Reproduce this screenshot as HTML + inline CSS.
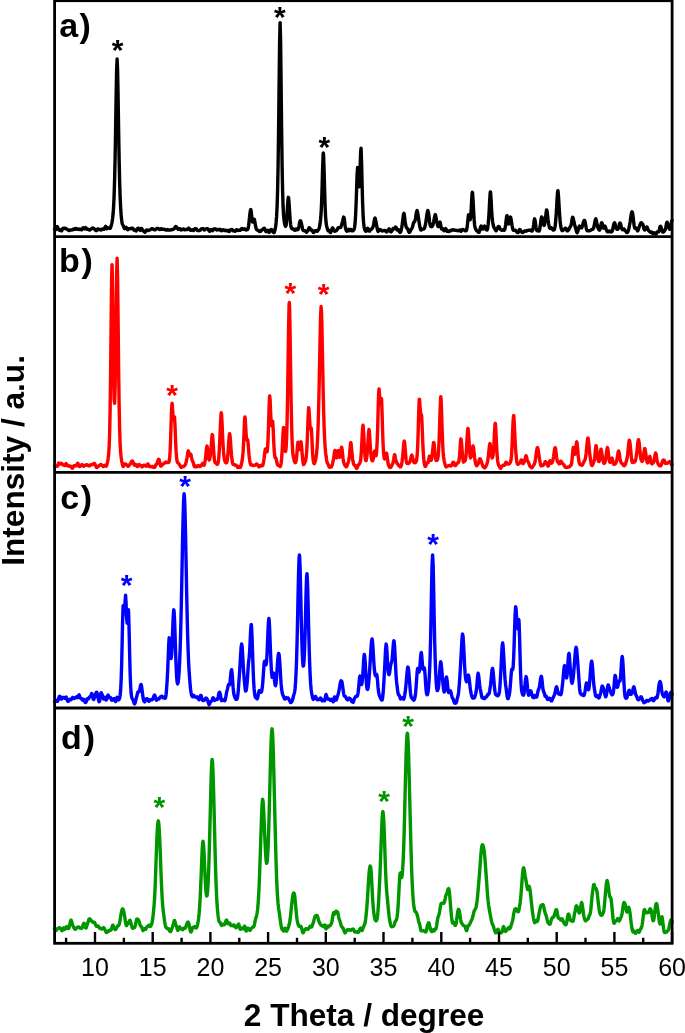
<!DOCTYPE html>
<html lang="en"><head><meta charset="utf-8"><title>XRD patterns</title>
<style>html,body{margin:0;padding:0;background:#fff}svg{display:block}</style></head>
<body>
<svg width="685" height="1033" viewBox="0 0 685 1033">
<rect width="685" height="1033" fill="#fff"/>
<path d="M54.6,229.1 55.1,229.6 55.6,229.8 56.1,228.7 56.6,227.0 57.1,226.5 57.6,227.4 58.1,228.5 58.6,229.4 59.1,230.2 59.6,230.2 60.1,229.8 60.6,230.0 61.1,230.8 61.6,230.8 62.1,229.9 62.6,228.7 63.1,228.2 63.6,228.4 64.1,228.5 64.6,228.2 65.1,228.2 65.6,228.4 66.1,228.7 66.6,229.1 67.1,229.4 67.6,229.6 68.1,229.9 68.6,230.4 69.1,230.6 69.6,230.3 70.1,229.9 70.6,229.9 71.1,230.0 71.6,229.9 72.1,229.9 72.6,229.8 73.1,229.4 73.6,228.9 74.1,229.0 74.6,229.3 75.1,229.1 75.6,228.5 76.1,228.4 76.6,228.7 77.1,229.2 77.6,229.4 78.1,229.2 78.6,228.9 79.1,229.3 79.6,229.6 80.1,229.3 80.6,229.1 81.1,229.5 81.6,229.8 82.1,229.4 82.6,228.5 83.1,227.8 83.6,228.0 84.1,228.6 84.6,228.9 85.1,228.3 85.6,227.6 86.1,227.9 86.6,228.9 87.1,229.3 87.6,229.1 88.1,229.2 88.6,229.6 89.1,230.1 89.6,230.1 90.1,229.8 90.6,229.4 91.1,229.1 91.6,228.7 92.1,228.1 92.6,228.0 93.1,228.2 93.6,228.4 94.1,228.7 94.6,229.3 95.1,229.8 95.6,230.3 96.1,230.7 96.6,230.6 97.1,229.8 97.6,228.9 98.1,229.0 98.6,229.6 99.1,229.7 99.6,229.3 100.1,229.4 100.6,229.7 101.1,230.0 101.6,229.7 102.1,229.3 102.6,229.0 103.1,228.9 103.6,229.1 104.1,229.3 104.6,228.6 105.1,227.0 105.6,226.4 105.9,227.1 106.1,227.7 106.6,228.8 107.1,228.4 107.6,227.8 108.1,227.9 108.6,227.9 109.1,228.0 109.6,228.4 110.1,228.4 110.6,227.4 111.1,226.1 111.6,224.1 112.1,221.6 112.6,218.4 113.1,213.8 113.6,206.6 114.1,195.6 114.6,179.9 115.1,158.2 115.6,129.8 116.1,97.9 116.6,70.4 117.1,59.0 117.6,70.3 118.1,97.8 118.6,129.4 119.1,157.9 119.6,180.5 120.1,196.4 120.6,207.0 121.1,214.4 121.6,219.8 122.1,223.2 122.6,224.8 123.1,225.5 123.6,226.5 124.1,228.0 124.6,228.7 125.1,228.2 125.6,227.4 126.1,227.3 126.4,227.6 126.6,228.0 127.1,229.1 127.6,229.8 128.1,229.4 128.6,228.8 129.1,228.6 129.6,228.8 130.1,228.9 130.6,228.8 131.1,228.4 131.6,228.2 132.1,228.3 132.6,228.3 133.1,228.6 133.6,229.6 134.1,230.3 134.6,230.2 135.1,229.9 135.6,230.3 136.1,231.0 136.6,230.4 137.1,229.1 137.6,228.3 138.1,228.2 138.6,228.4 139.1,229.0 139.6,229.9 140.1,230.4 140.6,229.7 141.1,228.6 141.6,228.4 142.1,229.2 142.6,230.3 143.1,230.9 143.6,230.9 144.1,231.4 144.6,232.2 145.1,232.2 145.6,231.2 146.1,230.4 146.6,230.0 147.1,229.9 147.6,230.3 148.1,230.6 148.6,230.4 149.1,230.1 149.6,230.0 150.1,229.7 150.6,229.4 151.1,229.2 151.6,228.9 152.1,228.7 152.6,228.8 153.1,229.1 153.6,229.3 154.1,229.6 154.6,229.8 155.1,229.9 155.6,229.6 156.1,229.1 156.6,228.6 157.1,228.4 157.6,228.4 158.1,228.6 158.6,228.7 159.1,229.0 159.6,229.5 160.1,229.5 160.6,228.9 161.1,228.6 161.6,229.0 162.1,229.4 162.6,229.4 163.1,229.4 163.6,229.2 164.1,229.1 164.6,229.4 165.1,229.7 165.6,229.7 166.1,229.9 166.6,230.1 167.1,229.7 167.6,229.4 168.1,229.7 168.6,230.1 169.1,230.1 169.6,230.1 170.1,230.0 170.6,230.0 171.1,229.9 171.6,229.8 172.1,229.4 172.6,229.3 173.1,229.4 173.6,229.4 174.1,228.9 174.6,228.1 175.1,227.2 175.5,226.6 175.6,226.5 176.1,226.6 176.6,227.3 177.1,227.9 177.6,228.7 178.1,229.3 178.6,229.4 179.1,228.9 179.6,228.6 180.1,228.6 180.6,229.2 181.1,230.0 181.6,229.9 182.1,229.5 182.6,229.4 183.1,229.1 183.6,228.9 184.1,229.5 184.6,229.9 185.1,229.7 185.6,229.5 186.1,229.4 186.6,229.4 187.1,229.5 187.6,229.2 188.1,228.6 188.6,228.1 189.1,228.4 189.6,229.2 190.1,230.0 190.6,230.4 191.1,230.4 191.6,230.1 192.1,229.7 192.6,229.8 193.1,230.4 193.6,230.6 194.1,229.9 194.6,229.1 195.1,228.7 195.6,228.6 196.1,228.8 196.6,229.3 197.1,230.0 197.6,230.5 198.1,230.6 198.6,230.6 199.1,230.6 199.6,230.6 200.1,230.3 200.6,229.6 201.1,229.0 201.6,228.9 202.1,228.8 202.6,228.6 203.1,228.7 203.6,229.3 204.1,230.0 204.6,229.9 205.1,229.3 205.6,228.9 206.1,228.9 206.6,228.8 207.1,228.6 207.6,228.7 208.1,229.2 208.6,230.0 209.1,230.9 209.6,231.2 210.1,230.7 210.6,230.0 211.1,229.6 211.6,229.9 212.1,230.4 212.6,230.7 213.1,230.1 213.6,229.2 214.1,228.8 214.6,228.9 215.1,229.0 215.6,228.9 216.1,229.2 216.6,229.8 217.1,230.1 217.6,229.8 218.1,229.4 218.6,229.5 219.1,229.7 219.6,229.5 220.1,229.3 220.6,230.0 221.1,230.6 221.6,230.7 222.1,230.4 222.6,230.0 223.1,229.7 223.6,229.8 224.1,230.2 224.6,230.6 225.1,230.5 225.6,230.1 226.1,230.1 226.6,230.6 227.1,231.0 227.6,230.7 228.1,230.3 228.6,230.8 229.1,231.5 229.6,231.2 230.1,230.2 230.6,229.8 231.1,229.8 231.6,229.4 232.1,229.4 232.6,230.2 233.1,230.7 233.6,230.6 234.1,230.7 234.6,231.1 235.1,231.4 235.6,231.1 236.1,230.4 236.6,229.7 237.1,229.6 237.6,230.1 238.1,230.5 238.6,230.4 239.1,230.1 239.6,230.2 240.1,230.3 240.6,229.8 241.1,229.1 241.6,228.6 242.1,228.5 242.6,228.9 243.1,229.3 243.6,229.4 244.1,229.2 244.6,228.8 245.1,229.0 245.6,229.7 246.1,230.0 246.6,229.7 247.1,229.7 247.6,229.6 248.1,228.5 248.6,225.8 249.1,221.5 249.6,216.6 250.1,212.2 250.6,209.6 250.7,209.5 251.1,210.8 251.6,215.1 252.1,219.7 252.6,222.1 253.1,221.9 253.6,220.4 254.1,219.1 254.2,219.1 254.6,220.2 255.1,223.2 255.6,226.2 256.1,228.4 256.6,229.6 257.1,230.0 257.6,230.2 258.1,230.3 258.6,230.6 259.1,231.2 259.6,231.5 260.1,231.5 260.6,231.3 261.1,230.8 261.6,230.0 262.1,229.7 262.6,229.7 263.1,229.3 263.6,228.5 264.1,228.2 264.6,228.6 265.1,229.7 265.6,231.0 266.1,231.7 266.6,231.5 267.1,230.7 267.6,230.3 268.1,230.8 268.6,231.8 269.1,232.4 269.6,231.8 270.1,230.7 270.6,229.9 271.1,229.5 271.6,229.5 272.1,230.1 272.6,231.2 273.1,232.1 273.6,232.5 274.1,232.6 274.6,231.3 275.1,229.4 275.6,226.7 276.1,222.5 276.6,216.2 277.1,206.4 277.6,190.3 278.1,165.1 278.6,129.1 279.1,84.6 279.6,41.9 280.1,22.6 280.6,41.1 281.1,83.7 281.6,129.0 282.1,165.8 282.6,191.1 283.1,206.7 283.6,215.6 284.1,220.5 284.6,223.6 285.1,225.6 285.6,226.4 286.1,225.2 286.6,220.7 287.1,213.3 287.6,204.8 288.1,198.4 288.3,197.3 288.6,198.0 289.1,203.7 289.6,211.7 290.1,219.2 290.6,224.5 291.1,227.3 291.6,228.4 292.1,228.8 292.6,228.8 293.1,228.8 293.6,229.3 294.1,229.9 294.6,230.4 295.1,230.4 295.6,229.6 296.1,228.9 296.6,229.1 297.1,229.7 297.6,229.7 298.1,229.3 298.6,228.0 299.1,225.5 299.6,222.6 300.1,220.9 300.4,220.7 300.6,221.0 301.1,222.2 301.6,224.4 302.1,227.0 302.6,229.2 303.1,230.3 303.6,230.5 304.1,230.6 304.6,230.8 305.1,230.8 305.6,231.1 306.1,232.0 306.6,232.3 307.1,231.6 307.6,230.9 308.1,230.2 308.6,228.8 309.1,227.7 309.6,227.8 310.1,228.6 310.6,229.5 311.1,230.1 311.6,230.1 312.1,230.2 312.6,231.2 313.1,232.3 313.6,232.5 314.1,232.0 314.6,231.4 315.1,230.8 315.6,230.6 316.1,230.7 316.6,231.2 317.1,231.3 317.6,230.9 318.1,230.0 318.6,229.5 319.1,228.5 319.6,226.4 320.1,223.4 320.6,219.2 321.1,212.8 321.6,202.7 322.1,187.4 322.6,168.7 323.1,154.5 323.3,152.9 323.6,155.7 324.1,170.9 324.6,189.8 325.1,205.8 325.6,216.8 326.1,222.9 326.6,225.9 327.1,227.8 327.6,229.6 328.1,230.7 328.6,230.6 329.1,230.5 329.6,231.3 330.1,232.4 330.6,232.6 331.1,231.6 331.6,230.0 332.1,228.4 332.6,227.9 333.1,228.6 333.6,229.8 334.1,230.8 334.6,231.2 335.1,231.2 335.6,231.0 336.1,230.7 336.6,230.3 337.1,229.8 337.6,228.7 338.1,227.7 338.6,227.7 339.1,227.7 339.6,227.5 340.1,227.6 340.6,227.4 341.1,226.4 341.6,224.9 342.1,223.4 342.6,221.4 343.1,219.0 343.6,217.1 344.1,217.7 344.6,221.1 345.1,225.5 345.6,228.7 346.1,230.2 346.6,230.9 347.1,231.2 347.6,230.5 348.1,229.6 348.6,229.3 349.1,230.0 349.6,230.6 350.1,230.1 350.6,229.4 351.1,229.5 351.6,230.2 352.1,230.9 352.6,230.8 353.1,230.6 353.6,230.1 354.1,229.3 354.6,227.3 355.1,222.8 355.6,215.1 356.1,203.7 356.6,189.0 357.1,174.4 357.6,167.4 358.1,172.8 358.6,182.4 359.1,186.7 359.6,182.3 360.1,169.0 360.6,153.0 361.0,148.3 361.1,149.1 361.6,163.5 362.1,184.6 362.6,202.6 363.1,215.3 363.6,222.7 364.1,226.8 364.6,229.1 365.1,230.4 365.6,231.2 366.1,231.3 366.6,230.1 367.1,228.8 367.6,228.2 368.1,228.8 368.6,230.1 369.1,231.1 369.6,231.1 370.1,230.2 370.6,229.6 371.1,229.3 371.6,229.1 372.1,228.5 372.6,227.7 373.1,226.7 373.6,224.8 374.1,221.6 374.6,218.8 375.0,218.1 375.1,218.2 375.6,219.9 376.1,222.5 376.6,225.1 377.1,228.2 377.6,230.5 378.1,231.4 378.6,231.1 379.1,230.1 379.6,229.5 380.1,229.6 380.6,229.8 381.1,230.0 381.6,230.6 382.1,231.0 382.6,230.9 383.1,230.8 383.6,230.7 384.1,230.5 384.6,230.4 385.1,230.5 385.6,230.9 386.1,231.6 386.6,232.0 387.1,231.6 387.6,230.8 388.1,230.1 388.6,229.4 389.1,228.8 389.6,229.4 390.1,230.8 390.6,231.7 391.1,231.7 391.6,231.2 392.1,230.5 392.6,229.5 393.1,228.6 393.6,228.4 394.1,228.8 394.6,228.8 395.1,227.9 395.6,227.0 396.1,227.5 396.6,229.0 397.1,230.0 397.6,229.9 398.1,229.5 398.6,229.9 399.1,231.0 399.6,231.8 400.1,232.4 400.6,232.0 401.1,230.4 401.6,228.0 402.1,225.1 402.6,221.5 403.1,217.5 403.6,214.1 404.0,213.4 404.1,213.6 404.6,216.9 405.1,221.3 405.6,224.7 406.1,226.8 406.6,227.8 407.1,228.2 407.6,228.8 408.1,229.9 408.6,231.4 409.1,232.3 409.6,232.3 410.1,231.5 410.6,230.5 411.1,229.5 411.6,228.8 412.1,228.1 412.6,226.7 413.1,224.5 413.6,222.7 414.1,222.0 414.6,221.7 415.1,220.4 415.6,217.7 416.1,214.3 416.6,211.5 417.1,210.6 417.6,212.3 418.1,215.4 418.6,218.8 419.1,222.2 419.6,225.4 420.1,228.1 420.6,229.8 421.1,230.1 421.6,229.7 422.1,229.4 422.6,229.2 423.1,229.0 423.6,229.0 424.1,228.7 424.6,227.6 425.1,226.1 425.6,223.7 426.1,220.4 426.6,216.7 427.1,213.3 427.6,211.0 427.8,210.6 428.1,211.0 428.6,213.3 429.1,217.3 429.6,222.0 430.1,225.1 430.6,226.2 431.1,226.5 431.6,226.7 432.1,226.4 432.6,225.7 433.1,224.2 433.6,222.1 434.1,219.4 434.6,216.7 435.1,214.9 435.3,214.6 435.6,215.3 436.1,218.0 436.6,220.9 437.1,223.3 437.6,225.3 438.1,226.6 438.6,226.5 439.1,224.8 439.6,222.6 440.0,222.1 440.1,222.2 440.6,224.4 441.1,227.4 441.6,229.1 442.1,229.0 442.6,228.6 443.1,229.3 443.6,230.4 444.1,230.7 444.6,230.1 445.1,229.1 445.6,228.5 446.1,229.1 446.6,230.5 447.1,231.3 447.6,231.1 448.1,231.0 448.6,231.5 449.1,231.6 449.6,230.9 450.1,230.4 450.6,230.5 451.1,230.7 451.6,230.5 452.1,230.1 452.6,229.7 453.1,229.7 453.6,229.8 454.1,230.0 454.6,230.3 455.1,230.3 455.6,230.2 456.1,230.3 456.6,230.5 457.1,230.5 457.6,230.5 458.1,230.7 458.6,230.7 459.1,230.4 459.6,229.9 460.1,230.0 460.6,230.7 461.1,231.2 461.6,230.6 462.1,229.8 462.6,229.5 463.1,229.6 463.6,229.8 464.1,230.0 464.6,230.3 465.1,230.8 465.6,230.9 466.1,230.7 466.6,229.8 467.1,227.4 467.6,222.9 468.1,217.6 468.5,215.1 468.6,214.8 469.1,216.0 469.6,218.7 470.1,219.8 470.6,217.3 471.1,210.5 471.6,201.1 472.1,193.5 472.4,192.3 472.6,193.3 473.1,200.8 473.6,210.7 474.1,219.2 474.6,225.0 475.1,227.7 475.6,228.8 476.1,229.9 476.6,230.7 477.1,231.0 477.6,231.3 478.1,231.9 478.6,232.3 479.1,232.3 479.6,231.1 480.1,228.9 480.6,226.9 481.1,226.0 481.3,226.1 481.6,226.8 482.1,228.2 482.6,229.0 483.1,229.0 483.6,228.5 484.1,227.1 484.5,226.1 484.6,226.0 485.1,226.9 485.6,228.3 486.1,229.2 486.6,229.9 487.1,230.0 487.6,228.5 488.1,224.9 488.6,219.5 489.1,211.9 489.6,202.2 490.1,193.6 490.4,191.9 490.6,192.5 491.1,199.9 491.6,209.8 492.1,217.3 492.6,221.8 493.1,224.5 493.6,226.5 494.1,227.6 494.6,228.5 495.1,229.4 495.6,230.3 496.1,230.8 496.6,230.2 497.1,228.9 497.6,227.6 498.1,226.8 498.6,226.5 499.0,226.6 499.1,226.8 499.6,227.9 500.1,229.1 500.6,229.6 501.1,229.7 501.6,230.2 502.1,230.4 502.6,230.1 503.1,229.8 503.6,230.0 504.1,230.3 504.6,229.7 505.1,228.0 505.6,224.9 506.1,220.5 506.6,216.7 507.0,215.7 507.1,215.9 507.6,218.8 508.1,222.3 508.6,223.9 509.1,223.2 509.6,221.0 510.1,218.3 510.5,217.1 510.6,217.2 511.1,219.2 511.6,222.5 512.1,225.6 512.6,228.3 513.1,229.9 513.6,230.3 514.1,230.2 514.6,230.3 515.1,230.3 515.6,230.3 516.1,230.9 516.6,231.8 517.1,232.3 517.6,232.6 518.1,232.5 518.6,231.8 519.1,230.5 519.6,229.5 520.1,229.6 520.6,230.5 521.1,231.2 521.6,231.9 522.1,232.3 522.6,232.5 523.1,232.4 523.6,231.9 524.1,231.4 524.6,230.9 525.1,230.8 525.6,231.0 526.1,231.2 526.6,231.0 527.1,230.6 527.6,230.4 528.1,230.3 528.6,230.3 529.1,230.3 529.6,230.3 530.1,230.2 530.6,230.0 531.1,230.3 531.6,231.0 532.1,231.1 532.6,230.1 533.1,228.1 533.6,224.9 534.1,220.9 534.6,218.8 535.1,220.4 535.6,224.2 536.1,227.8 536.6,230.1 537.1,230.8 537.6,230.5 538.1,230.1 538.6,230.5 539.1,231.0 539.6,229.9 540.1,226.9 540.6,222.9 541.1,219.1 541.6,216.9 542.1,217.3 542.6,219.6 543.1,222.5 543.6,224.7 544.1,225.4 544.6,224.4 545.1,221.8 545.6,217.6 546.1,212.8 546.6,209.9 546.7,209.9 547.1,211.3 547.6,215.6 548.1,219.9 548.6,223.5 549.1,226.3 549.6,227.9 550.1,228.5 550.6,228.1 551.1,227.6 551.6,227.9 552.1,228.7 552.6,229.5 553.1,230.0 553.6,230.0 554.1,229.8 554.6,229.0 555.1,226.5 555.6,222.1 556.1,215.8 556.6,207.5 557.1,198.3 557.6,191.7 557.9,190.7 558.1,191.6 558.6,198.0 559.1,206.5 559.6,214.3 560.1,220.7 560.6,225.4 561.1,228.1 561.6,229.7 562.1,230.6 562.6,230.6 563.1,230.0 563.6,229.6 564.1,229.5 564.6,229.0 565.1,228.4 565.6,228.2 566.1,228.7 566.6,229.9 567.1,230.9 567.6,230.9 568.1,230.5 568.6,229.9 569.1,229.0 569.6,227.8 570.1,227.0 570.6,226.3 571.1,225.0 571.6,222.3 572.1,219.0 572.6,217.3 572.9,217.4 573.1,218.0 573.6,220.1 574.1,222.5 574.6,224.6 575.1,226.6 575.6,228.3 576.1,230.1 576.6,231.9 577.1,232.7 577.6,232.0 578.1,230.4 578.6,228.4 579.1,226.6 579.5,226.1 579.6,226.2 580.1,227.0 580.6,227.6 581.1,227.8 581.6,227.8 582.1,226.9 582.6,225.1 583.1,223.2 583.6,221.6 584.1,220.4 584.6,220.4 585.1,221.9 585.6,224.5 586.1,227.3 586.6,229.4 587.1,230.6 587.6,230.9 588.1,230.7 588.6,230.7 589.1,230.9 589.6,230.7 590.1,230.4 590.6,230.3 591.1,230.0 591.6,229.5 592.1,229.3 592.6,229.4 593.1,229.1 593.6,228.1 594.1,226.0 594.6,223.4 595.1,220.7 595.6,218.9 595.8,218.8 596.1,219.5 596.6,221.9 597.1,224.7 597.6,226.8 598.1,228.1 598.6,229.1 599.1,230.1 599.6,230.2 600.1,228.8 600.6,226.4 601.1,224.1 601.6,222.7 602.1,223.2 602.6,225.3 603.1,227.3 603.6,228.1 604.1,227.5 604.6,226.4 605.0,226.1 605.1,226.2 605.6,227.6 606.1,229.1 606.6,230.4 607.1,231.5 607.6,231.9 608.1,231.8 608.6,231.4 609.1,231.0 609.6,230.9 610.1,231.4 610.6,231.9 611.1,232.0 611.6,231.9 612.1,231.4 612.6,229.9 613.1,227.5 613.6,224.9 614.1,223.2 614.5,222.7 614.6,222.8 615.1,224.0 615.6,226.2 616.1,228.1 616.6,229.1 617.1,229.3 617.6,229.3 618.1,229.0 618.6,227.6 619.1,225.4 619.6,223.5 619.8,223.1 620.1,223.0 620.6,223.9 621.1,226.1 621.6,228.3 622.1,229.4 622.6,229.7 623.1,229.5 623.6,229.1 624.1,229.0 624.6,229.8 625.1,230.6 625.6,231.0 626.1,231.7 626.6,232.4 627.1,232.6 627.6,232.1 628.1,231.3 628.6,229.8 629.1,227.4 629.6,224.8 630.1,222.0 630.6,218.4 631.1,214.9 631.6,212.6 632.0,211.8 632.1,211.9 632.6,213.2 633.1,216.6 633.6,221.1 634.1,225.3 634.6,227.7 635.1,228.2 635.6,228.0 636.1,228.0 636.6,228.8 637.1,230.1 637.6,230.9 638.1,230.3 638.6,228.8 639.1,227.2 639.6,225.8 640.1,224.4 640.6,223.2 641.1,222.7 641.3,222.7 641.6,223.1 642.1,223.5 642.6,224.0 643.1,225.2 643.6,227.4 644.1,229.3 644.6,230.0 645.1,229.7 645.6,228.8 646.1,227.6 646.6,226.9 647.0,227.1 647.1,227.3 647.6,228.5 648.1,229.8 648.6,230.7 649.1,231.1 649.6,231.3 650.1,231.9 650.6,232.3 651.1,232.2 651.6,231.9 652.1,232.5 652.6,233.4 653.1,233.6 653.6,233.0 654.1,232.7 654.6,233.0 655.1,233.6 655.6,234.0 656.1,234.0 656.6,233.2 657.1,232.1 657.6,231.7 658.1,231.8 658.6,231.8 659.1,230.9 659.6,228.5 660.0,226.7 660.1,226.4 660.6,226.3 661.1,227.4 661.6,229.1 662.1,230.9 662.6,231.9 663.1,232.1 663.6,231.9 664.1,231.2 664.6,230.5 665.1,230.0 665.6,228.5 666.1,225.9 666.6,223.1 667.0,222.1 667.1,222.1 667.6,223.5 668.1,225.4 668.6,226.8 669.1,228.2 669.6,229.2 670.1,229.0 670.6,227.6 671.1,224.6 671.6,221.2 672.0,220.4 672.1,220.6" fill="none" stroke="#000000" stroke-width="3.4" stroke-linejoin="round" stroke-linecap="round"/>
<path d="M54.6,466.0 55.1,466.2 55.6,466.1 56.1,465.9 56.6,465.9 57.1,466.3 57.6,466.0 58.1,464.4 58.6,463.1 59.1,463.3 59.6,463.9 60.1,464.0 60.6,463.5 61.0,463.1 61.1,463.1 61.6,463.4 62.1,464.1 62.6,464.7 63.1,464.9 63.6,464.8 64.1,465.0 64.6,465.5 65.1,465.4 65.6,464.2 66.0,463.6 66.1,463.5 66.6,464.1 67.1,465.2 67.6,465.9 68.1,465.9 68.6,465.8 69.1,466.2 69.6,466.2 70.1,465.9 70.6,466.2 71.1,466.9 71.6,467.5 72.1,468.1 72.6,468.1 73.1,467.2 73.6,466.1 74.1,465.7 74.6,465.8 75.1,465.8 75.6,465.7 76.1,465.7 76.6,465.2 77.1,464.2 77.6,463.3 78.1,463.8 78.6,465.2 79.1,466.4 79.6,466.6 80.1,466.0 80.6,465.5 81.1,465.2 81.6,464.8 82.1,464.6 82.6,465.2 83.1,466.2 83.6,466.4 84.1,465.9 84.6,465.4 85.1,465.3 85.6,465.4 86.1,465.2 86.6,464.8 87.1,464.6 87.6,464.9 88.1,465.5 88.6,465.9 89.1,465.9 89.6,465.8 90.1,465.4 90.6,464.9 91.1,464.7 91.6,464.7 92.1,464.7 92.6,464.5 93.1,464.1 93.6,463.7 94.1,463.4 94.6,463.6 95.1,464.5 95.6,465.7 96.1,466.7 96.6,467.4 97.1,467.5 97.6,466.9 98.1,466.3 98.6,466.1 99.1,465.7 99.6,465.3 100.1,464.9 100.6,464.5 101.1,464.5 101.6,464.9 102.1,465.3 102.6,465.8 103.1,466.5 103.6,466.6 104.1,465.9 104.6,465.3 105.1,465.3 105.6,465.8 106.1,466.2 106.6,465.9 107.1,463.9 107.6,461.6 108.1,458.7 108.6,454.6 109.1,447.7 109.6,434.8 110.1,411.1 110.6,373.4 111.1,324.8 111.6,279.6 112.0,264.7 112.1,265.4 112.6,292.6 113.1,337.6 113.6,376.6 114.1,399.3 114.6,403.2 115.1,388.7 115.6,357.5 116.1,315.2 116.6,274.8 117.1,258.1 117.6,278.1 118.1,321.0 118.6,366.4 119.1,402.9 119.6,427.9 120.1,443.3 120.6,452.1 121.1,457.2 121.6,460.6 122.1,463.0 122.6,465.0 123.1,466.4 123.6,466.2 124.1,465.2 124.6,464.3 125.1,464.0 125.6,463.9 126.1,464.2 126.6,464.9 127.1,465.4 127.6,465.9 128.1,466.3 128.6,466.1 129.1,465.4 129.6,464.7 130.1,464.1 130.6,463.3 131.1,462.3 131.6,461.4 131.8,461.1 132.1,461.0 132.6,461.3 133.1,462.3 133.6,463.8 134.1,465.0 134.6,465.2 135.1,464.6 135.6,464.3 136.1,464.9 136.6,465.8 137.1,466.5 137.6,466.4 138.1,465.7 138.6,464.8 139.1,464.5 139.6,465.0 140.1,465.5 140.6,465.5 141.1,465.7 141.6,466.4 142.1,466.9 142.6,466.3 143.1,465.7 143.6,465.3 144.1,465.1 144.6,465.2 145.1,465.6 145.6,466.0 146.1,466.2 146.6,466.2 147.1,465.4 147.6,464.1 148.1,464.0 148.6,465.1 149.1,466.4 149.6,466.6 150.1,466.4 150.6,466.5 151.1,466.7 151.6,466.7 152.1,466.4 152.6,466.5 153.1,467.1 153.6,467.3 154.1,467.3 154.6,467.4 155.1,466.7 155.6,465.3 156.1,464.4 156.6,464.2 157.1,463.4 157.6,461.7 158.1,460.0 158.6,459.3 159.0,459.5 159.1,459.7 159.6,461.6 160.1,464.4 160.6,466.1 161.1,466.1 161.6,465.5 162.1,464.8 162.6,464.3 163.1,464.1 163.6,463.8 164.1,463.2 164.6,462.9 165.1,462.7 165.6,462.3 166.0,462.1 166.1,462.2 166.6,462.5 167.1,462.5 167.6,462.2 168.1,462.2 168.6,462.5 169.1,461.8 169.6,458.6 170.1,451.4 170.6,439.4 171.1,423.8 171.6,408.9 172.0,403.4 172.1,403.3 172.6,409.5 173.1,417.2 173.6,418.9 174.1,416.6 174.5,417.1 174.6,418.1 175.1,428.2 175.6,441.1 176.1,451.4 176.6,457.8 177.1,461.3 177.6,462.6 178.1,463.0 178.6,463.4 179.1,464.0 179.6,464.9 180.1,465.7 180.6,466.7 181.1,467.4 181.6,467.3 182.1,466.8 182.6,466.4 183.1,466.5 183.6,466.6 184.1,466.1 184.6,465.5 185.1,465.1 185.6,464.0 186.1,462.1 186.6,460.0 187.1,457.3 187.6,453.7 188.1,451.1 188.3,450.9 188.6,451.5 189.1,453.9 189.6,455.6 190.1,455.2 190.6,454.1 190.7,454.1 191.1,455.2 191.6,457.9 192.1,460.1 192.6,461.2 193.1,462.2 193.6,463.8 194.1,465.7 194.6,466.8 195.1,466.8 195.6,466.3 196.1,466.3 196.6,466.7 197.1,466.7 197.6,465.9 198.1,465.4 198.6,465.6 199.1,466.3 199.6,466.5 200.1,466.3 200.6,466.1 201.1,465.7 201.6,464.9 202.1,463.9 202.6,463.4 203.1,464.0 203.6,465.1 204.1,465.2 204.6,463.5 205.1,461.0 205.6,457.3 206.1,452.2 206.6,447.5 207.0,446.1 207.1,446.2 207.6,449.5 208.1,454.3 208.6,458.2 209.1,460.1 209.6,459.5 210.1,456.9 210.6,453.1 211.1,447.6 211.6,440.5 212.1,435.1 212.3,434.5 212.6,435.6 213.1,442.0 213.6,450.1 214.1,456.8 214.6,461.0 215.1,462.5 215.6,462.6 216.1,463.1 216.6,464.0 217.1,464.4 217.6,464.1 218.1,462.7 218.6,459.5 219.1,453.5 219.6,444.3 220.1,432.9 220.6,421.0 221.1,413.4 221.3,412.8 221.6,414.9 222.1,424.4 222.6,435.8 223.1,445.6 223.6,452.7 224.1,457.3 224.6,460.1 225.1,461.7 225.6,462.5 226.1,462.9 226.6,462.8 227.1,461.3 227.6,457.8 228.1,451.9 228.6,444.2 229.1,437.0 229.6,433.8 229.7,433.8 230.1,436.5 230.6,442.9 231.1,449.8 231.6,455.9 232.1,460.6 232.6,463.3 233.1,464.4 233.6,464.5 234.1,464.4 234.6,464.7 235.1,465.1 235.6,465.3 236.1,465.1 236.6,465.5 237.1,466.6 237.6,467.4 238.1,467.2 238.6,466.7 239.1,466.7 239.6,467.2 240.1,467.5 240.6,466.9 241.1,465.4 241.6,463.2 242.1,460.7 242.6,457.3 243.1,451.8 243.6,442.9 244.1,430.6 244.6,419.6 244.9,417.0 245.1,417.7 245.6,425.1 246.1,434.1 246.6,439.6 247.1,440.3 247.6,439.8 247.7,440.1 248.1,443.2 248.6,449.8 249.1,455.7 249.6,459.8 250.1,462.8 250.6,464.5 251.1,465.0 251.6,465.0 252.1,464.9 252.6,465.0 253.1,465.4 253.6,465.6 254.1,465.4 254.6,465.3 255.1,465.2 255.6,464.8 256.1,464.2 256.6,463.9 257.1,464.3 257.6,465.0 258.1,465.7 258.6,466.5 259.1,466.9 259.6,466.5 260.1,465.7 260.6,465.4 261.1,465.5 261.6,465.8 262.1,465.9 262.6,465.6 263.1,464.2 263.6,461.6 264.1,458.2 264.6,454.0 265.1,450.2 265.3,449.1 265.6,448.9 266.1,450.2 266.6,451.9 267.1,451.8 267.6,447.7 268.1,437.9 268.6,423.0 269.1,406.5 269.6,396.5 269.7,396.0 270.1,400.0 270.6,411.9 271.1,422.3 271.6,425.8 272.1,423.2 272.6,421.1 272.7,421.6 273.1,427.2 273.6,438.9 274.1,449.0 274.6,455.2 275.1,457.6 275.6,457.7 275.8,457.9 276.1,458.8 276.6,461.1 277.1,463.4 277.6,464.9 278.1,465.4 278.6,465.2 279.1,465.3 279.6,466.1 280.1,466.6 280.6,465.8 281.1,463.3 281.6,458.7 282.1,451.6 282.6,441.8 283.1,431.8 283.5,427.5 283.6,427.5 284.1,433.0 284.6,442.2 285.1,449.2 285.6,451.6 286.1,448.5 286.6,438.8 287.1,421.1 287.6,394.6 288.1,361.1 288.6,326.8 289.1,304.7 289.3,302.5 289.6,307.8 290.1,333.9 290.6,368.6 291.1,400.5 291.6,424.7 292.1,440.7 292.6,450.5 293.1,455.7 293.6,458.2 294.1,460.2 294.6,461.9 295.1,462.7 295.6,462.5 296.1,460.7 296.6,457.0 297.1,451.0 297.6,444.7 298.0,442.1 298.1,442.1 298.6,444.7 299.1,448.5 299.6,449.4 300.1,446.6 300.6,442.8 301.0,441.8 301.1,442.1 301.6,446.6 302.1,452.9 302.6,458.9 303.1,463.1 303.6,464.6 304.1,464.0 304.6,462.8 305.1,461.9 305.6,460.7 306.1,457.8 306.6,452.3 307.1,443.6 307.6,430.9 308.1,416.7 308.6,408.1 308.7,407.7 309.1,410.5 309.6,419.7 310.1,427.1 310.6,429.1 311.1,427.9 311.4,429.1 311.6,431.8 312.1,442.6 312.6,453.1 313.1,459.6 313.6,462.5 314.1,463.7 314.6,463.3 315.1,461.8 315.6,459.9 316.1,457.2 316.6,453.1 317.1,447.1 317.6,438.5 318.1,426.3 318.6,409.3 319.1,387.5 319.6,362.3 320.1,336.6 320.6,315.6 321.1,306.5 321.6,313.9 322.1,334.8 322.6,361.6 323.1,387.7 323.6,409.6 324.1,426.6 324.6,438.8 325.1,446.9 325.6,452.4 326.1,456.6 326.6,460.1 327.1,462.3 327.6,463.4 328.1,464.3 328.6,465.6 329.1,466.9 329.6,467.2 330.1,467.1 330.6,466.9 331.1,467.0 331.6,466.5 332.1,465.2 332.6,463.4 333.1,461.2 333.6,458.6 334.1,455.1 334.6,451.6 335.0,450.4 335.1,450.5 335.6,452.9 336.1,456.2 336.6,457.8 337.1,456.5 337.6,453.1 338.1,450.6 338.3,450.7 338.6,451.9 339.1,455.3 339.6,457.3 340.1,456.6 340.6,453.2 341.1,449.1 341.6,447.2 341.7,447.3 342.1,449.5 342.6,454.1 343.1,458.7 343.6,461.9 344.1,463.7 344.6,464.9 345.1,465.7 345.6,466.2 346.1,466.8 346.6,466.7 347.1,465.5 347.6,464.2 348.1,462.9 348.6,461.1 349.1,458.4 349.6,454.2 350.1,448.1 350.6,443.0 350.8,442.6 351.1,443.7 351.6,449.1 352.1,454.8 352.6,459.0 353.1,462.0 353.6,464.0 354.1,464.9 354.6,465.1 355.1,465.4 355.6,466.4 356.1,467.6 356.6,468.4 357.1,468.0 357.6,466.6 358.1,465.3 358.6,464.8 359.1,464.2 359.6,463.3 360.1,462.3 360.6,460.3 361.1,455.3 361.6,447.2 362.1,437.2 362.6,428.1 363.0,425.3 363.1,425.6 363.6,431.8 364.1,441.9 364.6,450.9 365.1,457.1 365.6,460.3 366.1,460.7 366.6,458.4 367.1,454.0 367.6,447.8 368.1,439.8 368.6,432.1 369.0,429.5 369.1,429.6 369.6,434.6 370.1,443.1 370.6,450.9 371.1,456.2 371.6,459.3 372.1,460.8 372.6,460.9 373.1,459.5 373.6,456.6 374.1,452.8 374.5,451.1 374.6,451.0 375.1,453.0 375.6,455.8 376.1,455.8 376.6,451.7 377.1,443.2 377.6,429.7 378.1,411.5 378.6,394.4 378.9,389.3 379.1,388.9 379.6,395.7 380.1,403.3 380.6,403.6 381.1,398.5 381.5,398.6 381.6,399.9 382.1,413.8 382.6,431.1 383.1,444.4 383.5,451.7 383.6,453.1 384.1,457.9 384.6,458.9 385.1,457.7 385.6,455.5 386.1,453.5 386.5,453.1 386.6,453.3 387.1,455.9 387.6,459.9 388.1,463.5 388.6,465.4 389.1,466.5 389.6,467.2 390.1,467.5 390.6,467.3 391.1,466.8 391.6,465.8 392.1,464.8 392.6,463.9 393.1,462.4 393.6,459.8 394.1,456.5 394.6,454.8 394.7,454.8 395.1,456.3 395.6,459.1 396.1,461.1 396.6,462.5 397.1,463.3 397.6,463.8 398.1,464.7 398.6,465.3 399.1,465.6 399.6,466.2 400.1,466.9 400.6,466.9 401.1,466.0 401.6,464.2 402.1,461.3 402.6,457.0 403.1,451.3 403.6,445.2 404.1,441.3 404.3,441.1 404.6,442.5 405.1,448.0 405.6,454.6 406.1,460.0 406.6,462.8 407.1,463.4 407.6,463.5 408.1,463.6 408.6,463.4 409.1,463.0 409.6,462.4 410.1,461.2 410.6,459.1 411.1,456.9 411.6,455.2 411.8,455.1 412.1,455.4 412.6,457.6 413.1,459.8 413.6,461.5 414.1,462.7 414.6,462.8 415.1,462.7 415.6,462.5 416.1,461.6 416.6,459.9 417.1,456.0 417.6,447.8 418.1,433.9 418.6,416.0 419.1,401.4 419.3,399.1 419.6,399.6 420.1,407.4 420.6,413.5 421.1,414.0 421.6,415.5 422.1,425.1 422.6,438.3 423.1,449.6 423.6,457.5 424.1,462.3 424.6,465.0 425.1,466.3 425.6,466.4 426.1,465.1 426.6,463.5 427.1,462.8 427.6,463.0 428.1,462.6 428.6,460.5 429.1,457.4 429.5,456.1 429.6,456.1 430.1,457.7 430.6,459.9 431.1,460.5 431.6,459.1 432.1,455.7 432.6,451.1 433.1,446.1 433.6,442.5 433.8,442.4 434.1,443.7 434.6,448.9 435.1,454.8 435.6,458.8 436.1,460.4 436.6,460.4 437.1,460.2 437.6,459.5 438.1,456.8 438.6,450.5 439.1,440.3 439.6,426.3 440.1,410.2 440.6,398.2 440.8,396.8 441.1,399.2 441.6,412.2 442.1,428.5 442.6,442.3 443.1,451.7 443.6,457.0 444.1,460.3 444.6,462.6 445.1,464.5 445.6,466.1 446.1,466.9 446.6,466.7 447.1,466.1 447.6,465.9 448.1,465.9 448.6,465.8 449.1,465.4 449.6,465.4 450.1,465.6 450.6,465.9 451.1,466.0 451.6,465.6 452.1,464.4 452.6,462.9 453.1,462.1 453.2,462.1 453.6,462.4 454.1,463.5 454.6,464.7 455.1,465.6 455.6,465.6 456.1,464.9 456.6,464.0 457.1,463.3 457.6,463.0 458.1,462.7 458.6,462.0 459.1,459.8 459.6,454.9 460.1,447.4 460.6,440.7 460.9,438.9 461.1,439.1 461.6,443.7 462.1,450.8 462.6,457.3 463.1,461.2 463.6,462.1 464.1,461.5 464.6,461.1 465.1,460.7 465.6,458.9 466.1,454.3 466.6,446.9 467.1,437.9 467.6,430.3 467.9,428.4 468.1,428.7 468.6,434.1 469.1,442.6 469.6,450.7 470.1,456.2 470.6,457.9 471.1,456.7 471.6,453.9 472.1,450.5 472.6,447.2 473.0,445.9 473.1,446.0 473.6,448.4 474.1,452.8 474.6,457.3 475.1,460.9 475.6,463.4 476.1,465.1 476.6,465.8 477.1,465.3 477.6,464.5 478.1,463.9 478.6,462.6 479.1,460.4 479.6,458.8 480.0,458.7 480.1,458.8 480.6,459.8 481.1,460.8 481.6,462.1 482.1,463.9 482.6,465.6 483.1,466.6 483.6,467.0 484.1,467.6 484.6,467.8 485.1,467.4 485.6,466.8 486.1,465.9 486.6,464.8 487.1,463.4 487.6,461.3 488.1,458.1 488.6,453.9 489.1,449.0 489.6,444.7 490.0,443.6 490.1,443.9 490.6,447.5 491.1,452.4 491.6,456.2 492.1,457.9 492.6,457.5 493.1,455.0 493.6,449.5 494.1,440.7 494.6,430.4 495.1,423.7 495.3,423.4 495.6,425.6 496.1,435.0 496.6,446.0 497.1,454.8 497.6,460.5 498.1,463.5 498.6,465.0 499.1,465.8 499.6,466.8 500.1,468.0 500.6,468.3 501.1,467.4 501.6,466.4 502.1,466.1 502.6,465.8 503.1,465.4 503.6,465.2 504.1,465.2 504.6,465.2 505.1,464.2 505.6,462.7 506.0,462.1 506.1,462.1 506.6,462.7 507.1,463.7 507.6,464.1 508.1,464.0 508.6,463.9 509.1,463.9 509.6,463.5 510.1,462.7 510.6,461.7 511.1,459.6 511.6,454.6 512.1,444.9 512.6,432.3 513.1,420.9 513.6,415.5 513.7,415.5 514.1,419.6 514.6,430.1 515.1,440.7 515.6,449.2 516.1,455.8 516.6,460.5 517.1,463.1 517.6,464.2 518.1,464.2 518.6,463.9 519.1,463.4 519.6,463.2 520.1,462.8 520.6,461.5 521.0,460.1 521.1,459.9 521.6,460.0 522.1,461.5 522.6,463.1 523.1,463.7 523.6,463.0 524.1,462.0 524.6,460.8 525.1,458.8 525.6,456.6 526.0,455.8 526.1,455.8 526.6,457.3 527.1,459.5 527.6,461.1 528.1,461.8 528.6,462.6 529.1,463.9 529.6,465.5 530.1,466.5 530.6,466.9 531.1,467.2 531.6,467.8 532.1,467.7 532.6,466.9 533.1,466.1 533.6,465.3 534.1,464.5 534.6,463.4 535.1,461.5 535.6,458.3 536.1,454.5 536.6,450.9 537.1,448.2 537.6,447.6 538.1,449.4 538.6,452.8 539.1,456.4 539.6,459.6 540.1,462.3 540.6,464.6 541.1,465.9 541.6,465.7 542.1,465.2 542.6,465.2 543.1,465.3 543.6,464.8 544.1,464.1 544.6,462.9 545.1,461.9 545.6,461.7 546.0,462.1 546.1,462.3 546.6,463.2 547.1,464.2 547.6,465.5 548.1,466.2 548.6,465.4 549.1,463.3 549.6,461.3 550.0,460.7 550.1,460.7 550.6,461.6 551.1,462.8 551.6,463.2 552.1,462.6 552.6,461.3 553.1,459.4 553.6,456.5 554.1,452.8 554.6,449.3 555.1,447.6 555.2,447.6 555.6,449.0 556.1,452.7 556.6,457.2 557.1,460.6 557.6,461.9 558.1,462.1 558.6,462.7 559.1,463.8 559.6,463.9 560.1,462.5 560.6,461.1 561.0,461.1 561.1,461.3 561.6,462.4 562.1,463.2 562.6,463.5 563.1,463.9 563.6,464.6 564.1,465.3 564.6,466.2 565.1,467.0 565.6,467.4 566.1,467.5 566.6,467.3 567.1,467.2 567.6,467.2 568.1,467.0 568.6,466.9 569.1,467.0 569.6,466.6 570.1,465.9 570.6,465.5 571.1,465.1 571.6,463.4 572.1,459.1 572.6,453.3 573.1,448.4 573.3,447.6 573.6,447.7 574.1,450.8 574.6,454.0 575.1,454.2 575.6,450.8 576.1,445.7 576.6,442.1 576.8,441.8 577.1,443.0 577.6,448.2 578.1,454.5 578.6,459.4 579.1,462.3 579.6,463.9 580.1,464.6 580.6,464.9 581.1,465.0 581.6,465.2 582.1,465.2 582.6,464.6 583.1,463.6 583.6,462.3 584.1,461.3 584.6,460.6 585.1,459.5 585.6,457.2 586.1,453.5 586.6,448.5 587.1,443.1 587.6,438.9 587.9,438.0 588.1,438.2 588.6,441.5 589.1,447.2 589.6,452.6 590.1,456.7 590.6,460.2 591.1,463.2 591.6,465.0 592.1,465.5 592.6,464.9 593.1,463.6 593.6,462.3 594.1,461.0 594.6,458.5 595.1,453.7 595.6,448.0 596.0,445.6 596.1,445.6 596.6,448.3 597.1,453.1 597.6,457.2 598.1,459.9 598.6,461.4 599.1,461.5 599.6,459.7 600.1,455.6 600.6,450.8 601.0,449.1 601.1,449.1 601.6,451.8 602.1,455.4 602.6,458.3 603.1,460.9 603.6,462.7 604.1,463.4 604.6,463.1 605.1,461.6 605.6,458.9 606.1,455.6 606.6,451.8 607.1,448.4 607.4,447.6 607.6,447.8 608.1,451.0 608.6,455.6 609.1,459.6 609.6,461.9 610.1,462.4 610.6,461.8 611.1,460.2 611.6,458.4 612.0,458.1 612.1,458.2 612.6,460.2 613.1,462.7 613.6,464.1 614.1,464.4 614.6,464.2 615.1,464.0 615.6,463.4 616.1,462.5 616.6,461.1 617.1,458.9 617.6,455.8 618.1,452.5 618.5,451.1 618.6,451.0 619.1,452.5 619.6,455.7 620.1,459.0 620.6,461.4 621.1,462.6 621.6,463.2 622.1,463.5 622.6,464.0 623.1,464.7 623.6,465.4 624.1,465.7 624.6,465.4 625.1,464.8 625.6,463.6 626.1,461.9 626.6,460.2 627.1,458.2 627.6,455.0 628.1,450.2 628.6,444.7 629.1,440.9 629.3,440.3 629.6,440.7 630.1,444.0 630.6,448.9 631.1,454.4 631.6,459.4 632.1,462.3 632.6,462.5 633.1,461.7 633.6,461.2 634.1,461.5 634.6,462.0 635.1,461.4 635.6,459.7 636.1,457.3 636.6,454.1 637.1,449.9 637.6,444.9 638.1,440.8 638.4,439.7 638.6,439.8 639.1,442.5 639.6,447.3 640.1,452.8 640.6,457.2 641.1,459.8 641.6,460.9 642.1,461.3 642.6,460.8 643.1,459.1 643.6,455.7 644.1,451.4 644.6,448.6 644.8,448.5 645.1,449.2 645.6,452.2 646.1,456.0 646.6,459.6 647.1,462.1 647.6,462.9 648.1,462.3 648.6,460.7 649.1,458.5 649.6,456.7 649.8,456.4 650.1,457.0 650.6,459.6 651.1,462.2 651.6,463.6 652.1,463.8 652.6,463.4 653.1,462.9 653.6,462.2 654.1,460.7 654.6,457.8 655.1,454.5 655.6,452.9 656.1,454.3 656.6,457.6 657.1,460.6 657.6,462.6 658.1,463.8 658.6,464.6 659.1,465.2 659.6,465.7 660.1,465.9 660.6,465.8 661.1,465.2 661.6,464.1 662.1,462.6 662.6,461.0 663.1,460.2 663.6,459.9 663.8,459.9 664.1,460.2 664.6,461.3 665.1,462.8 665.6,463.5 666.1,463.4 666.6,463.3 667.1,463.3 667.6,462.9 668.1,462.6 668.6,462.3 669.1,461.9 669.6,461.6 670.1,462.0 670.6,462.8 671.1,464.0 671.6,464.7 672.1,464.5" fill="none" stroke="#ff0000" stroke-width="3.4" stroke-linejoin="round" stroke-linecap="round"/>
<path d="M54.6,701.7 55.1,702.0 55.6,701.4 56.1,700.5 56.6,700.5 57.1,701.3 57.6,701.3 58.1,700.0 58.6,698.4 59.1,697.1 59.6,696.1 59.8,696.1 60.1,696.4 60.6,697.9 61.1,699.1 61.6,699.1 62.1,698.3 62.6,697.5 63.1,697.5 63.6,697.4 64.1,697.4 64.6,698.2 65.1,698.4 65.6,697.5 66.0,697.1 66.1,697.0 66.6,697.9 67.1,699.5 67.6,700.9 68.1,701.3 68.6,701.1 69.1,700.5 69.6,699.6 70.1,699.2 70.6,699.6 71.1,699.7 71.6,699.1 72.1,698.2 72.6,697.5 73.1,697.4 73.6,698.2 74.1,698.5 74.6,698.0 75.1,697.8 75.6,697.9 76.1,697.5 76.6,696.8 77.1,697.0 77.6,697.7 78.1,697.0 78.6,695.3 79.1,694.9 79.2,695.1 79.6,696.0 80.1,697.5 80.6,698.4 81.1,698.5 81.6,698.7 82.1,699.5 82.6,700.2 83.1,699.9 83.6,699.2 84.1,699.6 84.6,701.2 85.1,702.3 85.6,702.5 86.1,702.0 86.6,700.6 87.1,699.1 87.6,698.4 88.1,698.6 88.6,698.7 89.1,697.8 89.6,696.9 90.1,696.6 90.6,696.1 91.1,694.8 91.4,693.9 91.6,693.5 92.1,693.9 92.6,696.4 93.1,698.8 93.6,699.5 94.1,698.7 94.6,697.3 95.1,696.0 95.6,694.4 96.1,692.8 96.5,692.1 96.6,692.1 97.1,693.1 97.6,695.3 98.1,697.8 98.6,700.2 99.1,701.7 99.6,701.0 100.1,697.8 100.6,694.2 101.1,692.7 101.2,692.7 101.6,693.3 102.1,694.6 102.6,696.3 103.1,698.3 103.6,699.0 104.1,698.0 104.6,697.2 105.1,697.7 105.6,699.0 106.1,700.0 106.6,699.5 107.1,697.5 107.6,695.6 108.1,695.0 108.2,695.1 108.6,696.0 109.1,697.3 109.6,697.7 110.1,697.4 110.6,697.6 111.1,698.9 111.6,700.2 112.1,700.3 112.6,699.5 113.1,699.0 113.6,698.8 114.1,698.5 114.6,699.1 115.1,700.7 115.6,701.5 116.1,700.3 116.6,698.3 117.1,697.3 117.6,697.9 118.1,699.4 118.6,700.0 119.1,699.4 119.6,698.0 120.1,695.5 120.6,690.5 121.1,681.2 121.6,666.2 122.1,644.8 122.6,620.8 123.1,605.8 123.6,607.3 124.1,613.9 124.6,612.1 125.1,601.4 125.6,595.1 126.1,604.1 126.6,617.9 127.1,623.0 127.6,617.3 128.1,609.9 128.4,609.8 128.6,612.8 129.1,629.9 129.6,652.5 130.1,672.1 130.6,685.5 131.1,693.0 131.6,696.8 132.1,698.3 132.6,699.1 133.1,700.2 133.6,701.7 134.1,703.3 134.6,703.9 135.1,703.0 135.6,700.9 136.1,698.8 136.6,697.1 137.1,695.1 137.6,692.9 138.1,691.6 138.6,691.7 139.1,691.8 139.6,690.4 140.1,687.9 140.6,685.3 140.9,684.5 141.1,684.4 141.6,686.4 142.1,690.3 142.6,694.6 143.1,698.0 143.6,700.1 144.1,701.4 144.6,701.9 145.1,701.4 145.6,700.2 146.1,699.1 146.6,698.6 147.1,698.7 147.6,699.2 148.1,700.1 148.6,701.1 149.1,701.3 149.6,700.6 150.1,699.9 150.6,699.7 151.1,699.7 151.6,699.7 152.1,699.7 152.6,699.2 153.1,698.2 153.6,696.9 154.1,695.6 154.5,695.1 154.6,695.0 155.1,696.0 155.6,698.0 156.1,699.9 156.6,700.2 157.1,699.3 157.6,699.0 158.1,699.1 158.6,699.1 159.1,698.9 159.6,698.1 160.1,697.1 160.6,696.9 161.1,696.7 161.6,696.2 162.0,696.1 162.1,696.2 162.6,697.2 163.1,697.8 163.6,697.5 164.1,697.3 164.6,697.8 165.1,698.3 165.6,697.6 166.1,694.4 166.6,688.6 167.1,681.2 167.6,671.9 168.1,659.9 168.6,646.7 169.1,638.3 169.2,637.8 169.6,639.5 170.1,647.5 170.6,655.5 171.1,658.5 171.6,655.1 172.1,645.8 172.6,632.3 173.1,619.0 173.6,610.8 173.8,609.8 174.1,611.6 174.6,621.1 175.1,635.7 175.6,651.6 176.1,665.7 176.6,676.1 177.1,682.0 177.6,683.9 178.1,682.5 178.6,678.5 179.1,672.1 179.6,662.7 180.1,650.1 180.6,634.1 181.1,614.3 181.6,590.3 182.1,564.7 182.6,539.7 183.1,517.3 183.6,500.4 184.1,493.7 184.6,499.3 185.1,515.0 185.6,537.3 186.1,563.3 186.6,589.5 187.1,613.3 187.6,633.8 188.1,650.0 188.6,662.1 189.1,671.0 189.6,678.1 190.1,684.3 190.6,689.4 191.1,692.8 191.6,695.1 192.1,696.4 192.6,696.7 193.1,695.9 193.6,695.3 194.1,695.9 194.6,696.8 195.1,697.0 195.6,697.0 196.1,697.3 196.6,697.0 197.1,696.7 197.6,697.4 198.1,698.6 198.6,699.3 199.1,699.8 199.6,699.2 200.1,697.3 200.6,695.5 200.7,695.5 201.1,695.5 201.6,697.3 202.1,699.3 202.6,700.4 203.1,700.6 203.6,700.5 204.1,700.3 204.6,699.9 205.1,699.1 205.6,698.3 206.1,698.0 206.6,698.4 207.1,699.0 207.6,700.0 208.1,701.7 208.6,703.6 209.1,704.7 209.6,703.9 210.1,702.5 210.6,701.8 211.1,701.4 211.6,700.9 212.1,700.1 212.6,698.5 213.1,697.7 213.6,698.8 214.1,700.2 214.6,700.5 215.1,699.8 215.6,699.5 216.1,699.6 216.6,699.6 217.1,699.5 217.6,699.0 218.1,697.1 218.6,694.6 219.1,692.7 219.5,692.1 219.6,692.1 220.1,693.4 220.6,696.1 221.1,699.1 221.6,700.6 222.1,700.2 222.6,699.6 223.1,699.8 223.6,700.1 224.1,700.5 224.6,700.7 225.1,700.2 225.6,698.3 226.1,695.3 226.6,692.3 227.1,690.4 227.6,688.4 228.1,685.9 228.2,685.5 228.6,684.6 229.1,685.0 229.6,684.8 230.1,681.7 230.6,676.4 231.1,671.4 231.6,669.7 232.1,673.0 232.6,679.8 233.1,687.2 233.6,692.4 234.1,695.1 234.6,696.6 235.1,697.9 235.6,698.9 236.1,699.3 236.6,699.4 237.1,698.8 237.6,696.8 238.1,692.6 238.6,686.2 239.1,679.0 239.6,671.9 240.1,663.9 240.6,655.2 241.1,647.6 241.6,644.0 242.1,646.2 242.6,653.5 243.1,663.0 243.6,671.4 244.1,677.9 244.6,683.4 245.1,688.3 245.6,691.1 246.1,690.6 246.6,687.6 247.1,682.9 247.6,675.9 248.1,668.0 248.4,664.1 248.6,662.1 249.1,658.0 249.6,652.1 250.1,642.3 250.6,631.3 251.1,624.7 251.3,624.5 251.6,627.5 252.1,638.7 252.6,653.6 253.1,668.6 253.6,680.7 254.1,688.7 254.6,693.6 255.1,696.5 255.6,697.6 256.1,697.8 256.6,698.4 257.1,698.9 257.6,698.1 258.1,695.5 258.6,692.6 259.1,690.9 259.2,690.7 259.6,690.6 260.1,690.9 260.6,691.7 261.1,692.3 261.6,691.5 262.1,688.9 262.6,684.6 263.1,678.0 263.6,670.3 264.1,663.9 264.4,661.8 264.6,661.3 265.1,662.4 265.6,664.4 266.1,664.7 266.6,661.4 267.1,652.8 267.6,640.5 268.1,628.2 268.6,619.8 268.9,618.5 269.1,619.5 269.6,628.0 270.1,641.1 270.6,654.3 271.1,665.4 271.6,673.3 272.1,677.3 272.6,677.0 273.1,674.3 273.5,673.1 273.6,673.2 274.1,676.1 274.6,681.0 275.1,684.8 275.6,685.7 276.1,682.9 276.6,676.6 277.1,668.8 277.6,661.5 278.1,656.1 278.6,653.4 279.1,654.5 279.6,659.5 280.1,667.4 280.6,676.3 281.1,683.9 281.6,689.1 282.1,692.4 282.6,694.3 283.1,695.7 283.6,696.8 284.1,697.9 284.6,699.0 285.1,699.0 285.6,697.9 286.1,697.6 286.6,698.2 287.1,698.3 287.6,697.9 288.1,698.0 288.6,698.7 289.1,699.6 289.6,700.6 290.1,701.7 290.6,702.5 291.1,702.6 291.6,701.8 292.1,701.0 292.6,699.8 293.1,697.6 293.6,695.5 294.1,694.0 294.6,692.1 295.1,688.4 295.6,681.7 296.1,672.0 296.6,658.6 297.1,640.7 297.6,618.3 298.1,593.8 298.6,571.6 299.1,557.4 299.4,554.9 299.6,556.0 300.1,568.1 300.6,589.0 301.1,612.1 301.6,632.6 302.1,648.9 302.6,660.5 303.1,666.1 303.6,665.7 304.1,660.0 304.6,649.2 305.1,633.0 305.6,612.4 306.1,591.5 306.6,576.8 307.0,573.8 307.1,574.5 307.6,585.3 308.1,604.1 308.6,625.4 309.1,645.2 309.6,661.5 310.1,674.1 310.6,683.2 311.1,689.2 311.6,692.7 312.1,695.3 312.6,697.9 313.1,699.3 313.6,699.1 314.1,698.4 314.6,697.7 315.1,696.7 315.4,696.5 315.6,696.5 316.1,697.6 316.6,698.9 317.1,699.7 317.6,699.7 318.1,699.4 318.6,699.6 319.1,699.5 319.6,698.9 320.1,698.2 320.6,697.9 321.1,698.6 321.6,700.0 322.1,700.8 322.6,700.8 323.1,700.3 323.6,699.9 324.1,700.4 324.6,700.8 325.1,699.0 325.6,695.8 326.1,694.4 326.6,696.0 327.1,698.2 327.6,699.0 328.1,699.1 328.6,699.0 329.1,699.0 329.6,699.6 330.1,700.2 330.6,700.3 331.1,699.8 331.6,699.3 332.1,699.6 332.6,700.6 333.1,701.8 333.6,701.4 334.1,698.9 334.6,697.0 335.1,697.5 335.6,699.2 336.1,700.0 336.6,699.2 337.1,697.3 337.6,695.8 338.1,694.5 338.6,692.4 339.1,689.9 339.6,687.0 340.1,684.1 340.6,681.9 341.1,680.8 341.6,681.0 342.1,682.7 342.6,685.9 343.1,689.8 343.6,693.3 344.1,695.5 344.6,696.2 345.1,696.3 345.6,696.8 346.1,697.9 346.6,698.9 347.1,699.5 347.6,699.9 348.1,699.6 348.6,698.6 349.1,698.1 349.6,698.5 350.1,698.8 350.6,699.1 351.1,700.4 351.6,701.5 352.1,701.7 352.6,702.1 353.1,702.4 353.6,701.3 354.1,699.4 354.6,698.3 355.1,697.6 355.6,696.6 356.1,696.1 356.6,696.3 357.1,696.3 357.6,695.2 358.1,692.8 358.6,688.3 359.1,682.4 359.6,677.3 360.0,676.1 360.1,676.2 360.6,679.1 361.1,682.7 361.6,684.4 362.1,682.7 362.6,677.5 363.1,669.7 363.6,661.1 364.1,655.2 364.3,654.5 364.6,655.5 365.1,661.4 365.6,669.7 366.1,678.4 366.6,685.4 367.1,689.1 367.6,689.5 368.1,687.7 368.6,683.7 369.1,677.8 369.6,670.8 370.1,663.0 370.6,654.5 371.1,646.4 371.6,640.7 372.1,639.0 372.6,642.5 373.1,649.9 373.6,658.5 374.1,666.1 374.6,671.6 375.1,674.8 375.6,675.9 376.1,675.3 376.6,674.3 377.1,676.1 377.6,681.6 378.1,687.9 378.6,692.1 379.1,694.4 379.6,696.0 380.1,697.2 380.6,698.2 381.1,699.2 381.6,700.0 382.1,700.0 382.6,697.9 383.1,693.3 383.6,686.3 384.1,678.0 384.6,669.0 385.1,658.8 385.6,649.1 386.1,644.0 386.6,646.3 387.1,654.4 387.6,663.9 388.1,670.8 388.6,674.2 389.1,674.6 389.6,672.8 390.1,669.2 390.5,666.1 390.6,665.6 391.1,663.4 391.6,662.0 392.1,659.2 392.6,653.8 393.1,647.1 393.6,641.9 393.9,640.8 394.1,641.1 394.6,646.5 395.1,656.1 395.6,666.7 396.1,675.8 396.6,681.9 397.1,686.3 397.6,690.3 398.1,693.6 398.6,695.0 399.1,695.2 399.6,696.1 400.1,697.9 400.6,698.9 401.1,698.6 401.6,698.2 402.1,697.9 402.6,697.5 403.1,698.2 403.6,699.2 404.1,698.2 404.6,695.6 405.1,692.6 405.6,688.8 406.1,683.6 406.6,677.7 407.1,672.0 407.6,668.0 407.9,667.1 408.1,667.3 408.6,670.2 409.1,675.8 409.6,682.5 410.1,688.7 410.6,693.7 411.1,696.7 411.6,697.9 412.1,698.2 412.6,698.7 413.1,699.6 413.6,700.2 414.1,700.0 414.6,698.9 415.1,696.6 415.6,692.7 416.1,687.0 416.6,679.6 417.1,672.5 417.6,668.4 418.1,668.6 418.6,671.0 419.1,671.9 419.6,669.5 420.1,663.8 420.6,657.0 421.1,652.7 421.3,652.6 421.6,654.3 422.1,660.4 422.6,666.3 423.1,669.4 423.6,669.2 424.1,667.8 424.4,668.1 424.6,669.1 425.1,675.1 425.6,683.4 426.1,690.2 426.6,693.7 427.1,694.8 427.6,694.3 428.1,691.5 428.6,686.6 429.1,679.9 429.6,670.7 430.1,657.7 430.6,638.5 431.1,613.1 431.6,585.6 432.1,563.6 432.6,554.9 433.1,563.8 433.6,586.3 434.1,613.6 434.6,638.3 435.1,657.2 435.6,670.6 436.1,680.4 436.6,687.5 437.1,690.6 437.6,690.5 438.1,689.0 438.6,686.0 439.1,680.7 439.6,673.3 440.1,666.0 440.6,662.0 440.7,661.8 441.1,663.3 441.6,667.9 442.1,673.5 442.6,679.3 443.1,685.0 443.6,689.5 444.1,692.0 444.6,691.6 445.1,687.9 445.6,682.7 446.1,678.3 446.5,677.1 446.6,677.3 447.1,680.4 447.6,685.7 448.1,690.2 448.6,692.6 449.1,692.6 449.6,691.4 450.0,690.7 450.1,690.7 450.6,691.2 451.1,692.9 451.6,695.2 452.1,697.2 452.6,698.3 453.1,699.0 453.6,700.2 454.1,702.0 454.6,703.2 455.1,703.3 455.6,703.2 456.1,702.8 456.6,701.7 457.1,699.3 457.6,697.2 458.1,695.4 458.6,692.2 459.1,687.0 459.6,680.4 460.1,672.7 460.6,664.1 461.1,655.0 461.6,646.0 462.1,637.9 462.5,634.3 462.6,634.0 463.1,636.8 463.6,645.0 464.1,655.4 464.6,665.5 465.1,673.4 465.6,678.3 466.1,680.8 466.6,681.8 467.1,680.7 467.6,678.0 468.1,675.5 468.3,675.1 468.6,675.4 469.1,678.1 469.6,682.4 470.1,687.1 470.6,690.9 471.1,693.4 471.6,695.4 472.1,697.2 472.6,697.9 473.1,697.7 473.6,697.7 474.1,698.0 474.6,697.4 475.1,695.9 475.6,694.1 476.1,691.9 476.6,688.3 477.1,682.6 477.6,676.4 478.1,673.3 478.3,673.7 478.6,675.2 479.1,679.8 479.6,684.5 480.1,688.2 480.6,690.8 481.1,693.3 481.6,696.0 482.1,697.7 482.6,698.0 483.1,697.8 483.6,697.9 484.1,698.5 484.6,698.6 485.1,698.0 485.6,697.2 486.1,697.0 486.6,696.9 487.0,696.1 487.1,696.0 487.6,694.8 488.1,694.3 488.6,694.4 489.1,693.6 489.6,691.1 490.1,688.0 490.6,684.5 491.1,679.6 491.6,673.8 492.1,669.5 492.5,668.4 492.6,668.5 493.1,671.4 493.6,676.8 494.1,683.1 494.6,688.6 495.1,692.3 495.6,694.3 496.1,695.0 496.6,695.0 497.1,695.2 497.6,695.7 498.1,695.7 498.6,694.9 499.1,693.4 499.6,690.2 500.1,684.2 500.6,675.7 501.1,666.1 501.6,655.7 502.1,646.6 502.6,642.9 502.7,642.9 503.1,646.0 503.6,653.6 504.1,663.0 504.6,672.4 505.1,679.9 505.6,684.7 506.1,688.3 506.6,692.2 507.1,696.1 507.6,698.5 508.1,698.6 508.6,697.1 509.1,695.3 509.6,692.8 510.1,688.3 510.6,681.9 511.1,675.2 511.6,670.2 511.7,669.7 512.1,669.0 512.6,669.5 513.1,667.4 513.6,659.2 514.1,645.5 514.6,629.5 515.1,614.7 515.6,606.7 516.1,609.1 516.6,618.1 517.1,626.4 517.6,628.7 518.1,624.7 518.6,619.5 518.9,620.1 519.1,623.0 519.6,638.2 520.1,657.6 520.6,673.8 521.1,684.2 521.6,690.1 522.1,693.0 522.6,694.3 523.1,695.1 523.6,695.2 524.1,693.0 524.6,688.6 525.1,683.3 525.6,678.8 526.1,676.6 526.6,678.3 527.1,683.2 527.6,689.0 528.1,693.6 528.6,695.2 529.1,694.5 529.6,693.1 530.1,691.6 530.5,690.8 530.6,690.8 531.1,691.5 531.6,693.2 532.1,695.2 532.6,696.9 533.1,697.5 533.6,697.7 534.1,697.6 534.6,696.5 534.8,696.1 535.1,695.5 535.6,695.9 536.1,697.0 536.6,697.1 537.1,695.7 537.6,693.1 538.0,691.1 538.1,690.6 538.6,689.3 539.1,688.2 539.6,685.9 540.1,682.1 540.6,678.4 541.1,676.5 541.3,676.3 541.6,677.1 542.1,680.8 542.6,686.0 543.1,690.1 543.6,691.8 544.1,692.5 544.6,694.3 545.1,696.2 545.6,696.5 546.1,696.1 546.6,696.9 547.1,698.6 547.6,699.5 548.1,699.0 548.6,698.6 549.1,698.3 549.6,698.2 550.1,698.9 550.6,700.0 551.1,700.9 551.6,700.9 552.1,699.9 552.6,698.8 553.1,697.8 553.6,696.6 554.1,695.5 554.6,694.5 555.1,692.5 555.6,689.9 556.1,687.5 556.5,686.8 556.6,686.8 557.1,688.4 557.6,691.0 558.1,693.1 558.6,694.0 559.1,693.8 559.6,693.5 560.1,694.0 560.6,694.7 561.1,694.2 561.6,691.8 562.1,687.9 562.6,683.5 563.1,678.3 563.6,672.4 564.1,667.3 564.4,665.8 564.6,665.6 565.1,667.8 565.6,672.3 566.1,676.5 566.6,677.9 567.1,675.3 567.6,668.8 568.1,660.6 568.6,654.3 569.1,653.4 569.6,658.5 570.1,665.8 570.6,672.3 571.1,678.1 571.6,682.3 572.1,683.3 572.6,681.5 573.1,678.2 573.6,673.6 574.1,667.7 574.6,660.9 575.1,654.4 575.6,649.4 576.0,647.4 576.1,647.2 576.6,649.2 577.1,654.5 577.6,661.0 578.1,667.4 578.6,674.3 579.1,681.9 579.6,688.5 580.1,692.6 580.6,693.9 581.1,693.8 581.6,694.2 582.1,695.0 582.6,695.2 583.1,695.3 583.6,695.6 584.1,695.3 584.6,693.6 585.1,691.0 585.6,687.6 586.1,684.2 586.5,682.9 586.6,683.0 587.1,684.8 587.6,687.6 588.1,689.5 588.6,689.7 589.1,687.6 589.6,682.7 590.1,676.2 590.6,669.4 591.1,663.6 591.6,661.1 591.7,661.1 592.1,663.1 592.6,668.4 593.1,675.5 593.6,682.3 594.1,687.1 594.6,690.1 595.1,693.2 595.6,695.9 596.1,696.4 596.6,695.5 597.1,695.4 597.6,696.4 598.1,697.4 598.6,698.0 599.1,697.9 599.6,696.6 600.1,695.0 600.6,693.5 601.1,691.2 601.6,688.1 602.1,686.2 602.3,686.0 602.6,686.4 603.1,687.6 603.6,689.0 604.1,690.7 604.6,693.0 605.1,695.5 605.6,696.8 606.1,696.2 606.6,694.0 607.1,690.5 607.6,686.8 608.1,684.9 608.3,685.0 608.6,685.7 609.1,687.6 609.6,689.2 610.1,690.3 610.6,691.7 611.1,693.3 611.6,694.4 612.1,694.9 612.6,694.6 613.1,693.4 613.6,690.5 614.1,685.4 614.6,679.1 615.1,675.4 615.4,675.8 615.6,676.8 616.1,681.3 616.6,685.3 617.1,687.3 617.6,687.2 618.1,685.0 618.6,682.1 619.0,681.1 619.1,681.0 619.6,681.4 620.1,680.8 620.6,676.6 621.1,669.0 621.6,661.1 622.1,656.8 622.2,656.6 622.6,658.7 623.1,665.9 623.6,675.6 624.1,685.3 624.6,692.7 625.1,696.6 625.6,698.0 626.1,698.3 626.6,698.2 627.1,697.0 627.6,695.0 628.1,693.0 628.6,691.4 629.1,690.3 629.3,690.2 629.6,690.7 630.1,692.7 630.6,694.4 631.1,694.3 631.6,693.7 632.1,693.1 632.6,691.4 633.1,688.8 633.6,686.9 633.8,686.8 634.1,687.2 634.6,689.3 635.1,692.0 635.6,694.1 636.1,695.3 636.6,696.4 637.1,697.9 637.6,699.0 638.1,699.7 638.6,699.7 639.1,699.3 639.6,698.8 640.1,697.9 640.6,696.9 641.1,696.8 641.6,697.5 642.1,698.6 642.6,700.0 643.1,701.3 643.6,702.3 644.1,702.7 644.6,702.4 645.1,702.0 645.6,701.9 646.1,701.3 646.6,700.5 647.1,700.4 647.6,700.8 648.1,701.0 648.6,700.9 649.1,700.7 649.6,700.1 650.1,699.6 650.6,699.2 651.1,699.0 651.6,698.6 652.1,698.5 652.6,699.5 653.1,700.7 653.6,700.8 654.1,700.1 654.6,699.1 655.1,698.1 655.6,697.5 656.1,697.7 656.6,698.0 657.1,697.5 657.6,695.5 658.1,692.2 658.6,688.0 659.1,684.3 659.6,682.3 660.0,681.6 660.1,681.7 660.6,682.6 661.1,685.5 661.6,689.7 662.1,692.9 662.6,694.5 663.1,695.5 663.6,696.4 664.1,696.9 664.6,696.0 665.1,694.5 665.6,693.1 666.1,692.1 666.6,692.7 667.1,695.3 667.6,698.6 668.1,700.9 668.6,700.8 669.1,698.9 669.6,696.7 670.1,694.8 670.6,693.1 671.1,692.1 671.4,692.1 671.6,692.5 672.1,694.2" fill="none" stroke="#0000ff" stroke-width="3.4" stroke-linejoin="round" stroke-linecap="round"/>
<path d="M54.6,928.6 55.1,929.1 55.6,930.0 56.1,930.5 56.6,930.0 57.1,928.9 57.6,928.4 58.1,928.4 58.6,928.1 59.1,927.6 59.6,927.7 60.1,928.1 60.6,928.6 61.1,929.6 61.6,930.5 62.1,930.7 62.6,929.8 63.1,928.4 63.6,927.8 64.1,928.5 64.6,929.4 65.1,929.2 65.6,928.0 66.1,927.0 66.6,926.6 67.1,926.9 67.6,927.6 68.1,928.6 68.6,928.6 69.1,927.1 69.6,925.0 70.1,922.8 70.6,920.7 71.1,920.1 71.6,921.3 72.1,923.1 72.6,924.8 73.1,926.3 73.6,927.3 74.1,928.1 74.6,928.8 75.1,929.3 75.6,929.1 76.1,928.5 76.6,927.8 77.1,927.3 77.6,927.2 78.1,927.1 78.6,926.9 79.1,927.2 79.6,928.0 80.1,927.9 80.6,927.9 81.1,928.4 81.6,928.5 82.1,927.8 82.6,926.5 83.1,924.9 83.6,923.6 84.1,923.2 84.6,924.3 85.1,926.2 85.6,927.8 86.1,928.0 86.6,926.7 87.1,925.1 87.6,923.6 88.1,921.9 88.6,920.1 89.1,919.1 89.6,918.8 90.1,919.1 90.6,919.6 91.1,920.4 91.6,921.1 92.0,921.4 92.1,921.5 92.6,921.8 93.1,922.3 93.6,922.3 94.1,922.2 94.6,922.5 95.1,923.6 95.6,925.0 96.1,925.9 96.6,926.3 97.1,926.2 97.6,926.0 98.1,926.0 98.6,926.5 99.1,927.5 99.6,928.2 100.1,928.5 100.6,928.5 101.1,928.5 101.6,928.8 102.1,929.1 102.6,928.6 103.1,927.9 103.6,927.6 104.1,928.1 104.6,929.1 105.1,929.9 105.6,931.1 106.1,932.4 106.6,932.6 107.1,931.7 107.6,931.3 108.1,931.5 108.6,931.3 109.1,930.5 109.6,930.2 110.1,930.4 110.6,930.4 111.1,929.9 111.6,928.7 112.1,926.8 112.6,925.3 113.1,925.3 113.6,926.8 114.1,928.3 114.6,929.0 115.1,929.5 115.6,929.5 116.1,928.7 116.6,927.7 117.1,926.8 117.6,926.0 118.1,925.6 118.6,925.4 119.1,924.7 119.6,922.9 120.1,920.1 120.6,917.0 121.1,913.8 121.6,911.2 122.1,909.5 122.6,908.8 123.1,909.4 123.6,911.0 124.1,913.2 124.6,916.0 125.1,919.4 125.6,922.6 126.1,925.0 126.6,925.7 127.1,924.3 127.6,922.7 128.1,922.9 128.6,923.4 129.1,922.2 129.6,920.4 130.1,920.3 130.2,920.6 130.6,922.0 131.1,924.1 131.6,925.8 132.1,927.3 132.6,928.4 133.1,928.4 133.6,927.9 134.1,927.7 134.6,927.5 135.1,926.4 135.6,924.5 136.1,921.5 136.6,919.3 137.1,919.0 137.6,919.3 138.1,919.4 138.6,920.2 139.1,921.6 139.6,923.3 140.1,925.0 140.6,926.1 141.1,926.4 141.6,926.8 142.1,928.1 142.6,929.8 143.1,930.6 143.6,929.9 144.1,928.9 144.6,928.7 145.1,929.4 145.6,929.4 146.1,928.4 146.6,927.4 147.1,926.6 147.6,926.4 148.1,926.2 148.6,925.4 149.1,925.2 149.6,926.0 150.1,926.6 150.6,926.3 151.1,925.4 151.6,924.2 152.1,922.5 152.6,919.6 153.1,915.6 153.6,910.8 154.1,905.1 154.6,897.8 155.1,887.6 155.6,874.4 156.1,859.6 156.6,845.5 157.1,833.7 157.6,825.4 158.1,821.1 158.3,820.8 158.6,821.9 159.1,827.6 159.6,836.7 160.1,848.1 160.6,861.4 161.1,875.2 161.6,887.1 162.1,896.7 162.6,904.3 163.1,909.8 163.6,913.7 164.1,917.4 164.6,921.2 165.1,924.3 165.6,926.4 166.1,927.4 166.6,927.8 167.1,928.4 167.6,928.8 168.1,928.8 168.6,928.8 169.1,929.5 169.6,930.8 170.1,931.6 170.6,931.6 171.1,930.7 171.6,929.4 172.1,927.9 172.6,926.5 173.1,925.1 173.6,923.2 174.1,921.1 174.3,920.6 174.6,920.5 175.1,922.0 175.6,924.0 176.1,925.4 176.6,926.6 177.1,928.5 177.6,930.2 178.1,930.4 178.6,929.0 179.1,927.5 179.6,926.9 180.1,927.6 180.6,928.4 181.1,928.7 181.6,928.9 182.1,929.5 182.6,929.7 183.1,929.2 183.6,928.5 184.1,928.0 184.6,928.1 185.1,928.3 185.6,927.6 186.1,926.0 186.6,924.5 187.1,923.3 187.5,922.4 187.6,922.3 188.1,922.1 188.6,922.9 189.1,924.8 189.6,927.4 190.1,930.1 190.6,931.9 191.1,932.0 191.6,930.8 192.1,929.2 192.6,928.0 193.1,927.2 193.6,927.2 194.1,927.6 194.6,927.2 195.1,926.6 195.6,927.0 196.1,927.9 196.6,927.7 197.1,926.3 197.6,924.3 198.1,921.6 198.6,918.2 199.1,913.7 199.6,907.4 200.1,899.0 200.6,888.7 201.1,876.6 201.6,863.5 202.1,851.5 202.6,843.4 203.0,841.3 203.1,841.4 203.6,845.6 204.1,854.4 204.6,865.9 205.1,877.4 205.6,886.5 206.1,892.8 206.6,896.0 207.1,895.5 207.6,891.2 208.1,883.3 208.6,871.7 209.1,856.5 209.6,838.7 210.1,819.1 210.6,798.6 211.1,779.4 211.6,765.3 212.1,759.5 212.2,759.5 212.6,763.0 213.1,774.5 213.6,791.2 214.1,810.6 214.6,831.4 215.1,851.7 215.6,869.5 216.1,884.4 216.6,896.2 217.1,904.7 217.6,910.9 218.1,915.9 218.6,919.7 219.1,921.5 219.6,922.0 220.1,922.4 220.6,923.5 221.1,924.8 221.6,925.4 222.1,924.9 222.6,924.1 223.1,924.1 223.6,924.7 224.1,924.9 224.6,924.5 225.1,923.5 225.6,922.0 226.1,920.5 226.6,920.0 226.9,920.6 227.1,921.1 227.6,923.0 228.1,923.8 228.6,923.8 229.1,923.3 229.6,923.0 230.1,923.9 230.6,925.0 231.1,925.5 231.6,925.4 232.1,925.4 232.6,925.9 233.1,925.9 233.6,924.9 234.1,924.9 234.6,925.9 235.1,926.9 235.6,927.4 236.1,927.7 236.6,927.3 237.1,926.6 237.6,925.7 238.1,924.6 238.6,924.0 239.1,925.1 239.6,927.4 240.1,929.2 240.6,929.3 241.1,928.3 241.6,928.0 242.1,928.4 242.6,928.9 243.1,928.9 243.6,928.1 244.1,926.6 244.6,926.1 245.1,927.6 245.6,930.0 246.1,931.1 246.6,930.5 247.1,929.2 247.6,928.2 248.1,928.1 248.6,928.8 249.1,929.6 249.6,930.3 250.1,930.3 250.6,929.4 251.1,928.5 251.6,928.1 252.1,927.8 252.6,927.4 253.1,926.9 253.6,926.7 254.1,925.8 254.6,923.6 255.1,920.9 255.5,919.3 255.6,918.9 256.1,917.4 256.6,915.6 257.1,913.0 257.6,909.4 258.1,903.8 258.6,896.1 259.1,886.5 259.6,874.0 260.1,859.4 260.6,844.6 261.1,829.5 261.6,814.9 262.1,803.9 262.6,799.2 263.1,801.5 263.6,809.4 264.1,820.3 264.6,832.2 265.1,843.7 265.6,853.6 266.1,860.4 266.6,863.4 267.1,862.1 267.6,856.5 268.1,846.9 268.6,832.9 269.1,815.6 269.6,796.6 270.1,776.8 270.6,757.5 271.1,741.6 271.6,731.5 272.1,728.8 272.6,733.8 273.1,745.7 273.6,763.0 274.1,783.4 274.6,804.8 275.1,825.6 275.6,845.0 276.1,863.0 276.6,878.1 277.1,889.4 277.6,897.7 278.1,903.9 278.6,908.2 279.1,911.4 279.5,914.1 279.6,914.8 280.1,918.8 280.6,922.6 281.1,925.6 281.6,928.1 282.1,929.4 282.6,929.8 283.1,930.4 283.6,931.1 284.1,930.3 284.6,928.5 285.1,928.2 285.6,929.4 286.1,930.8 286.6,931.1 287.1,930.3 287.6,929.3 288.1,928.0 288.6,926.4 289.1,924.8 289.6,922.7 290.1,919.6 290.6,915.2 291.1,910.1 291.6,905.2 292.1,901.0 292.6,897.3 293.1,894.4 293.6,893.0 294.1,893.1 294.6,895.3 295.1,899.7 295.6,905.2 296.1,910.9 296.6,916.1 297.1,920.0 297.6,922.8 298.1,924.4 298.6,925.5 299.1,926.3 299.6,926.5 300.1,926.3 300.6,926.3 301.1,926.8 301.6,928.1 302.1,930.0 302.6,932.0 303.1,932.8 303.6,932.0 304.1,930.9 304.6,930.1 305.1,929.5 305.6,928.8 306.1,928.6 306.6,928.7 307.1,929.2 307.6,929.4 308.1,929.0 308.6,928.5 309.1,928.0 309.6,927.1 310.1,926.2 310.6,926.4 311.1,927.1 311.6,927.1 312.1,926.0 312.6,924.4 313.1,923.1 313.6,921.7 314.1,919.7 314.6,917.7 315.1,916.3 315.6,915.8 316.1,915.7 316.5,915.4 316.6,915.4 317.1,915.4 317.6,916.6 318.1,918.5 318.6,920.4 319.1,921.8 319.6,922.7 320.1,923.8 320.6,924.8 321.1,925.2 321.6,925.4 322.1,925.8 322.6,925.9 323.1,926.3 323.6,926.6 324.1,925.8 324.6,925.0 325.1,926.1 325.6,928.4 326.1,928.9 326.6,927.4 327.1,926.0 327.6,926.3 328.1,927.1 328.6,927.0 329.1,926.1 329.6,925.7 330.1,925.5 330.6,925.0 331.1,924.1 331.6,923.0 332.1,920.9 332.6,917.6 333.1,914.2 333.6,912.7 334.1,913.5 334.6,914.2 335.1,913.2 335.6,911.6 336.1,911.1 336.6,911.4 337.1,911.7 337.5,911.9 337.6,912.1 338.1,913.8 338.6,916.5 339.1,918.9 339.6,920.3 340.1,921.6 340.6,923.4 341.1,925.3 341.6,926.6 342.1,927.2 342.6,927.5 343.1,928.2 343.6,929.5 344.1,931.0 344.6,932.2 345.1,932.9 345.6,932.3 346.1,931.0 346.6,930.4 347.1,930.0 347.6,929.5 348.1,929.8 348.6,930.1 349.1,930.0 349.6,929.8 350.1,930.1 350.6,930.3 351.1,930.1 351.6,929.7 352.1,929.4 352.6,929.2 353.1,929.0 353.6,929.5 354.1,930.8 354.6,931.9 355.1,932.1 355.6,931.9 356.1,931.9 356.6,932.0 357.1,931.8 357.6,931.8 358.1,932.3 358.6,932.2 359.1,931.0 359.6,929.6 360.1,928.6 360.6,928.1 361.1,928.7 361.6,930.0 362.1,930.5 362.6,929.6 363.1,928.0 363.6,926.6 364.1,925.6 364.6,924.6 365.1,922.8 365.6,919.5 366.1,915.1 366.6,910.0 367.1,904.1 367.6,896.6 368.1,887.9 368.6,879.7 369.1,873.0 369.6,868.3 370.1,866.0 370.6,866.6 371.1,870.8 371.6,878.8 372.1,888.9 372.6,898.5 373.1,906.0 373.6,911.3 374.1,914.9 374.6,917.8 375.1,919.9 375.6,920.7 376.1,920.9 376.6,920.5 377.1,918.9 377.6,915.4 378.1,909.4 378.6,901.4 379.1,892.2 379.6,882.3 380.1,871.2 380.6,858.5 381.1,844.8 381.6,831.1 382.1,819.2 382.6,812.4 382.9,811.6 383.1,812.3 383.6,818.1 384.1,828.3 384.6,842.1 385.1,857.5 385.6,871.4 386.1,882.3 386.6,890.2 387.1,895.9 387.6,901.0 387.7,902.1 388.1,906.5 388.6,911.7 389.1,916.2 389.6,919.9 390.1,922.7 390.6,924.7 391.1,926.1 391.6,926.8 392.1,926.6 392.6,926.4 393.1,926.4 393.6,926.0 394.1,925.1 394.6,923.5 395.1,921.8 395.6,920.9 396.1,920.4 396.6,919.2 397.1,916.8 397.6,912.5 398.1,906.1 398.6,897.3 399.1,887.3 399.6,878.5 400.0,874.1 400.1,873.4 400.6,872.8 401.1,875.4 401.6,877.6 402.1,876.0 402.6,870.2 403.1,861.6 403.6,850.1 404.1,834.6 404.6,814.9 405.1,793.2 405.6,772.5 406.1,754.8 406.6,741.4 407.1,734.2 407.4,733.3 407.6,734.2 408.1,741.6 408.6,755.3 409.1,773.4 409.6,793.5 410.1,813.5 410.6,833.2 411.1,852.0 411.6,868.2 412.1,881.0 412.6,890.8 413.1,898.3 413.6,904.0 414.1,907.7 414.6,910.1 415.1,911.5 415.6,911.9 416.1,912.3 416.5,913.1 416.6,913.4 417.1,914.7 417.6,916.2 418.1,918.8 418.6,921.5 419.1,922.8 419.6,924.1 420.1,926.8 420.6,929.5 421.1,930.8 421.6,930.8 422.1,930.6 422.6,930.6 423.1,930.7 423.6,930.8 424.1,931.1 424.6,931.2 425.1,931.4 425.6,932.0 426.1,931.7 426.6,929.5 427.1,926.8 427.6,925.0 428.1,923.7 428.6,922.8 428.7,922.8 429.1,923.4 429.6,925.4 430.1,928.0 430.6,929.8 431.1,930.9 431.6,931.6 432.1,931.4 432.6,930.4 433.1,929.8 433.6,930.4 434.1,931.0 434.6,930.2 435.1,929.2 435.6,929.0 436.1,928.5 436.6,926.0 437.1,922.4 437.6,919.1 438.1,917.0 438.6,915.7 439.1,914.3 439.6,911.7 440.1,908.3 440.6,905.2 441.1,903.6 441.6,903.1 442.0,903.1 442.1,903.1 442.6,903.2 443.1,903.4 443.6,903.4 444.1,902.7 444.6,901.4 445.1,899.1 445.6,896.5 446.0,895.1 446.1,894.8 446.6,894.1 447.1,892.8 447.6,890.7 448.1,889.1 448.6,888.5 448.9,889.1 449.1,890.0 449.6,894.2 450.1,900.1 450.6,906.5 451.1,912.3 451.6,917.4 452.1,921.4 452.6,923.1 453.1,922.7 453.6,922.4 454.1,923.2 454.6,924.4 455.1,925.3 455.6,925.3 456.1,923.7 456.6,920.4 457.1,916.4 457.6,912.5 458.1,910.0 458.6,909.3 459.1,910.1 459.6,912.2 460.1,915.6 460.6,919.2 461.1,921.8 461.6,923.1 462.1,923.8 462.6,924.5 463.1,925.1 463.6,925.6 464.1,926.0 464.6,925.9 465.1,926.3 465.6,928.1 466.1,930.0 466.6,930.7 467.1,929.6 467.6,927.2 468.1,925.7 468.6,925.5 469.1,925.2 469.6,924.2 470.1,923.2 470.6,922.2 471.1,920.9 471.6,919.9 472.1,918.9 472.6,917.4 473.1,915.5 473.4,914.1 473.6,913.2 474.1,911.2 474.6,910.1 475.1,909.5 475.6,908.5 476.1,906.9 476.6,904.4 477.1,900.8 477.6,896.0 478.1,890.4 478.6,884.4 479.1,878.3 479.6,872.1 480.1,865.5 480.6,858.5 481.1,852.2 481.6,847.5 482.1,845.1 482.6,844.7 482.8,844.9 483.1,845.7 483.6,847.6 484.1,850.5 484.6,854.9 485.1,860.9 485.6,867.7 486.1,874.6 486.6,881.8 487.1,889.0 487.6,895.6 488.1,900.9 488.6,905.0 489.1,908.4 489.6,911.1 490.1,913.7 490.6,916.5 491.1,919.0 491.6,921.3 492.1,923.3 492.6,924.6 493.1,925.5 493.6,926.9 494.1,928.7 494.6,930.2 495.1,931.7 495.6,932.9 496.1,932.8 496.6,931.5 497.1,930.4 497.6,929.5 498.1,929.3 498.6,930.2 499.1,931.3 499.6,931.7 500.1,932.2 500.6,932.8 501.1,932.8 501.6,932.5 502.1,931.8 502.6,929.9 503.1,927.5 503.4,926.9 503.6,926.6 504.1,927.7 504.6,929.6 505.1,931.2 505.6,931.4 506.1,930.7 506.6,930.1 507.1,929.9 507.6,929.2 508.1,928.0 508.6,927.6 509.1,928.3 509.6,928.7 510.1,928.2 510.6,927.1 511.1,925.6 511.6,923.7 512.1,922.2 512.6,920.7 513.1,917.8 513.6,914.4 514.1,911.9 514.6,910.3 515.0,909.1 515.1,908.9 515.6,908.6 516.1,909.2 516.6,909.9 517.1,910.7 517.6,911.4 518.1,911.8 518.6,911.3 519.1,909.3 519.6,906.3 520.1,903.0 520.6,898.7 521.1,893.1 521.6,886.5 522.1,879.6 522.6,873.4 523.1,869.1 523.6,867.8 523.8,868.1 524.1,869.3 524.6,872.5 525.1,875.7 525.6,878.4 526.1,881.2 526.6,884.2 527.1,887.3 527.6,889.6 528.1,889.2 528.6,887.1 529.1,886.4 529.6,887.8 529.7,888.1 530.1,890.6 530.6,894.8 531.1,899.7 531.6,904.3 532.1,908.6 532.6,912.7 533.1,916.2 533.6,919.0 534.1,921.3 534.6,922.7 535.1,922.6 535.6,921.6 536.1,920.5 536.6,920.5 537.1,921.4 537.6,921.1 538.1,919.0 538.6,915.9 539.1,913.2 539.6,910.9 540.1,908.4 540.6,906.4 541.1,905.4 541.6,905.1 542.1,905.0 542.2,904.8 542.6,904.6 543.1,904.7 543.6,906.2 544.1,908.5 544.6,910.9 545.1,912.8 545.6,914.1 546.1,915.4 546.6,917.3 547.1,919.7 547.6,921.7 548.1,922.8 548.6,923.2 549.1,923.7 549.6,924.3 550.1,924.2 550.6,922.7 551.1,920.5 551.6,918.9 552.1,917.9 552.6,917.4 553.1,917.2 553.6,916.9 554.1,915.9 554.6,914.3 555.1,912.6 555.6,910.9 555.7,910.6 556.1,909.7 556.6,909.7 557.1,911.9 557.6,915.2 558.1,917.6 558.6,918.2 559.1,918.2 559.6,918.5 560.1,919.1 560.6,920.0 561.1,920.0 561.6,919.2 562.1,918.9 562.6,919.8 563.1,921.2 563.6,922.4 564.1,923.2 564.6,923.7 565.1,924.2 565.6,924.8 566.1,924.6 566.6,923.0 567.1,920.0 567.6,916.6 568.1,914.4 568.6,914.0 568.9,914.5 569.1,915.1 569.6,917.2 570.1,919.4 570.6,920.6 571.1,920.7 571.6,920.6 572.1,920.8 572.6,921.4 573.1,921.1 573.6,919.1 574.1,916.2 574.6,913.4 575.1,911.0 575.6,908.2 576.1,906.1 576.5,905.7 576.6,905.8 577.1,906.6 577.6,907.7 578.1,909.5 578.6,911.7 579.1,912.9 579.6,912.7 580.1,911.0 580.6,907.8 581.1,904.2 581.6,902.5 582.1,903.9 582.6,907.2 583.1,910.8 583.6,914.3 584.1,917.1 584.6,919.1 585.1,920.3 585.6,920.9 586.1,920.6 586.6,920.0 587.1,919.5 587.6,919.4 588.1,918.9 588.6,917.4 589.1,915.8 589.6,915.0 590.1,913.9 590.6,911.3 591.1,906.8 591.6,901.1 592.1,895.9 592.6,891.9 593.1,888.1 593.6,884.9 594.1,884.5 594.6,886.5 595.1,887.9 595.6,888.1 596.1,888.7 596.6,889.8 597.1,892.3 597.3,893.7 597.6,896.6 598.1,901.2 598.6,905.3 599.1,909.2 599.6,912.2 600.1,913.8 600.6,914.6 601.1,915.2 601.6,915.4 602.1,914.9 602.6,914.0 603.1,913.3 603.6,911.8 604.1,908.4 604.6,903.1 605.1,897.1 605.6,891.4 606.1,886.2 606.6,882.1 607.1,880.5 607.2,880.6 607.6,882.0 608.1,885.2 608.6,888.9 609.1,892.7 609.6,895.7 610.1,897.1 610.6,897.5 611.1,899.1 611.6,903.2 612.1,908.6 612.6,914.2 613.1,919.0 613.6,922.3 614.1,923.3 614.6,922.7 615.1,921.7 615.6,920.9 616.1,920.8 616.6,920.7 617.1,919.7 617.6,918.6 618.1,918.9 618.6,920.3 619.1,921.0 619.6,920.4 620.1,919.3 620.6,918.0 621.1,916.9 621.6,915.5 622.1,913.3 622.6,910.0 623.1,906.2 623.6,903.3 624.1,902.4 624.3,902.5 624.6,903.0 625.1,904.4 625.6,906.6 626.1,909.3 626.6,911.5 627.1,912.0 627.6,910.4 628.1,908.2 628.6,907.3 629.0,907.9 629.1,908.3 629.6,910.4 630.1,913.6 630.6,917.9 631.1,922.6 631.6,926.4 632.1,929.2 632.6,931.1 633.1,932.0 633.6,931.6 634.1,931.1 634.6,931.9 635.1,933.1 635.6,933.3 636.1,932.5 636.6,931.5 637.1,930.9 637.6,930.4 638.1,930.6 638.6,931.9 639.1,932.3 639.6,931.1 640.1,929.7 640.6,928.9 641.1,928.3 641.6,927.2 642.1,925.1 642.6,921.7 643.1,917.4 643.6,913.1 644.1,910.3 644.6,909.6 644.9,910.1 645.1,910.7 645.6,912.2 646.1,912.8 646.6,912.6 647.1,912.4 647.6,912.5 648.1,912.6 648.6,912.5 649.1,911.5 649.6,909.8 649.9,909.0 650.1,908.8 650.6,909.1 651.1,910.2 651.6,912.6 652.1,916.0 652.6,919.1 653.1,920.7 653.6,920.3 654.1,917.8 654.6,913.5 655.1,909.2 655.6,906.0 656.1,903.9 656.5,903.5 656.6,903.6 657.1,905.3 657.6,908.3 658.1,912.0 658.6,916.1 659.1,919.9 659.6,922.9 660.1,924.0 660.6,922.8 661.1,919.9 661.6,917.0 662.0,916.7 662.1,916.9 662.6,920.4 663.1,925.1 663.6,928.8 664.1,931.3 664.6,932.6 665.1,932.6 665.6,932.0 666.1,931.9 666.6,932.0 667.1,931.5 667.6,930.9 668.1,930.5 668.6,929.5 669.1,927.4 669.6,924.5 670.1,922.0 670.6,920.5 670.7,920.1 671.1,919.8 671.6,920.3 672.1,922.2" fill="none" stroke="#009600" stroke-width="3.4" stroke-linejoin="round" stroke-linecap="round"/>
<g stroke="#000" stroke-width="2.8" fill="none">
<rect x="54.6" y="0.7" width="617.5" height="942.6"/>
<path d="M54.6,236.7 H672.1 M54.6,472.3 H672.1 M54.6,708.0 H672.1"/>
</g>
<g stroke="#000" stroke-width="2.4" fill="none">
<path d="M95.0,943.3 v-11.3 M152.7,943.3 v-11.3 M210.4,943.3 v-11.3 M268.1,943.3 v-11.3 M325.8,943.3 v-11.3 M383.5,943.3 v-11.3 M441.3,943.3 v-11.3 M499.0,943.3 v-11.3 M556.7,943.3 v-11.3 M614.4,943.3 v-11.3 M672.1,943.3 v-11.3 M66.1,943.3 v-5.6 M123.9,943.3 v-5.6 M181.6,943.3 v-5.6 M239.3,943.3 v-5.6 M297.0,943.3 v-5.6 M354.7,943.3 v-5.6 M412.4,943.3 v-5.6 M470.1,943.3 v-5.6 M527.8,943.3 v-5.6 M585.5,943.3 v-5.6 M643.2,943.3 v-5.6 "/>
</g>
<g font-family="'Liberation Sans', Arial, sans-serif" font-size="25" text-anchor="middle" fill="#000">
<text x="95.0" y="976.1">10</text>
<text x="152.7" y="976.1">15</text>
<text x="210.4" y="976.1">20</text>
<text x="268.1" y="976.1">25</text>
<text x="325.8" y="976.1">30</text>
<text x="383.5" y="976.1">35</text>
<text x="441.3" y="976.1">40</text>
<text x="499.0" y="976.1">45</text>
<text x="556.7" y="976.1">50</text>
<text x="614.4" y="976.1">55</text>
<text x="672.1" y="976.1">60</text>
</g>
<g font-family="'Liberation Sans', Arial, sans-serif" font-weight="bold" fill="#000">
<text y="37.3" font-size="34"><tspan x="59.2">a</tspan><tspan x="79.6">)</tspan></text>
<text y="272.1" font-size="34"><tspan x="58.9">b</tspan><tspan x="81.5">)</tspan></text>
<text y="509.3" font-size="34"><tspan x="60.2">c</tspan><tspan x="80.8">)</tspan></text>
<text y="749" font-size="34"><tspan x="61.1">d</tspan><tspan x="83.7">)</tspan></text>
<text x="364.1" y="1026.3" font-size="31.6" text-anchor="middle">2 Theta / degree</text>
<text transform="translate(24,460.4) rotate(-90)" font-size="31.6" text-anchor="middle">Intensity / a.u.</text>
</g>
<g font-family="'Liberation Sans', Arial, sans-serif" font-weight="bold" font-size="30" text-anchor="middle">
<text x="117.5" y="60.1" fill="#000">*</text>
<text x="279.9" y="26.9" fill="#000">*</text>
<text x="324.3" y="156.6" fill="#000">*</text>
<text x="172" y="404.7" fill="#f00">*</text>
<text x="290.3" y="302.6" fill="#f00">*</text>
<text x="323.7" y="303.6" fill="#f00">*</text>
<text x="126.7" y="594.7" fill="#00f">*</text>
<text x="185.1" y="496.3" fill="#00f">*</text>
<text x="433.1" y="554.4" fill="#00f">*</text>
<text x="159.4" y="817.1" fill="#009600">*</text>
<text x="384" y="811.2" fill="#009600">*</text>
<text x="408.2" y="736.4" fill="#009600">*</text>
</g>
</svg>
</body></html>
